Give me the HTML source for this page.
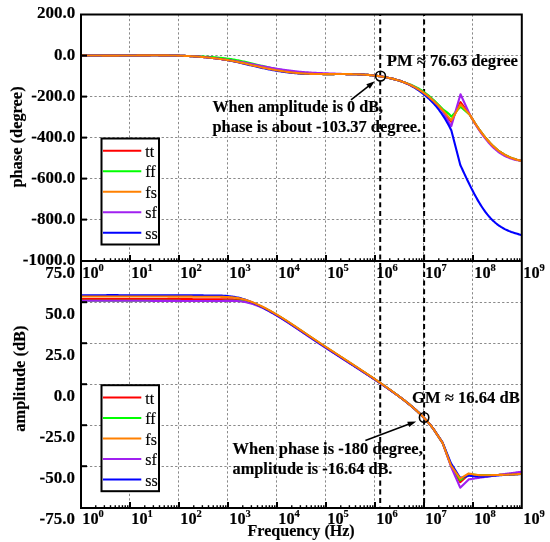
<!DOCTYPE html>
<html><head><meta charset="utf-8"><style>
html,body{margin:0;padding:0;background:#fff;}
svg{display:block;}
text{font-family:"Liberation Serif","DejaVu Serif",serif;fill:#000;stroke:#000;stroke-width:0.15px;}
.yl{font-size:17px;font-weight:bold;text-anchor:end;}
.xl{font-size:16.3px;font-weight:bold;}
.sup{font-size:10.5px;}
.an{font-size:16px;font-weight:bold;}
.al{font-size:16.4px;font-weight:bold;text-anchor:middle;}
.lt{font-size:16px;}
.g{stroke:#8a8a8a;stroke-width:1;stroke-dasharray:2.3 2.18;fill:none;}
.ax{stroke:#000;stroke-width:2;fill:none;}
.tk{stroke:#000;stroke-width:2;}
.mt{stroke:#000;stroke-width:1.4;}
.lg{stroke:#000;stroke-width:2;fill:#fff;}
.dl{stroke:#000;stroke-width:2;stroke-dasharray:5.1 3.6;stroke-dashoffset:3.2;}
.cc{stroke:#000;stroke-width:1.6;fill:none;}
</style></head><body>
<svg width="550" height="542" viewBox="0 0 550 542">
<rect width="550" height="542" fill="#fff"/>
<line x1="129.5" y1="14.4" x2="129.5" y2="508.0" class="g"/>
<line x1="178.5" y1="14.4" x2="178.5" y2="508.0" class="g"/>
<line x1="227.5" y1="14.4" x2="227.5" y2="508.0" class="g"/>
<line x1="276.5" y1="14.4" x2="276.5" y2="508.0" class="g"/>
<line x1="325.5" y1="14.4" x2="325.5" y2="508.0" class="g"/>
<line x1="374.5" y1="14.4" x2="374.5" y2="508.0" class="g"/>
<line x1="423.5" y1="14.4" x2="423.5" y2="508.0" class="g"/>
<line x1="472.5" y1="14.4" x2="472.5" y2="508.0" class="g"/>
<line x1="81.0" y1="55.50" x2="521.8" y2="55.50" class="g"/>
<line x1="81.0" y1="96.50" x2="521.8" y2="96.50" class="g"/>
<line x1="81.0" y1="137.50" x2="521.8" y2="137.50" class="g"/>
<line x1="81.0" y1="178.50" x2="521.8" y2="178.50" class="g"/>
<line x1="81.0" y1="219.50" x2="521.8" y2="219.50" class="g"/>
<line x1="81.0" y1="302.50" x2="521.8" y2="302.50" class="g"/>
<line x1="81.0" y1="343.50" x2="521.8" y2="343.50" class="g"/>
<line x1="81.0" y1="384.50" x2="521.8" y2="384.50" class="g"/>
<line x1="81.0" y1="425.50" x2="521.8" y2="425.50" class="g"/>
<line x1="81.0" y1="466.50" x2="521.8" y2="466.50" class="g"/>
<line x1="380.2" y1="14" x2="380.2" y2="508" class="dl"/>
<line x1="424.1" y1="14" x2="424.1" y2="508" class="dl"/>
<polyline points="81.00,55.30 82.00,55.33 83.00,55.35 84.00,55.37 85.00,55.39 86.00,55.41 87.00,55.43 88.00,55.44 89.00,55.46 90.00,55.47 91.00,55.48 92.00,55.48 93.00,55.49 94.00,55.50 95.00,55.50 96.00,55.50 97.00,55.52 98.00,55.53 99.00,55.54 100.00,55.56 101.00,55.57 102.00,55.58 103.00,55.58 104.00,55.59 105.00,55.60 106.00,55.60 107.00,55.60 108.00,55.61 109.00,55.61 110.00,55.61 111.00,55.61 112.00,55.61 113.00,55.61 114.00,55.60 115.00,55.60 116.00,55.60 117.00,55.59 118.00,55.59 119.00,55.58 120.00,55.57 121.00,55.57 122.00,55.56 123.00,55.55 124.00,55.54 125.00,55.54 126.00,55.53 127.00,55.52 128.00,55.51 129.00,55.50 130.00,55.49 131.00,55.48 132.00,55.47 133.00,55.46 134.00,55.45 135.00,55.44 136.00,55.43 137.00,55.42 138.00,55.41 139.00,55.40 140.00,55.39 141.00,55.39 142.00,55.38 143.00,55.37 144.00,55.36 145.00,55.36 146.00,55.35 147.00,55.34 148.00,55.34 149.00,55.33 150.00,55.33 151.00,55.32 152.00,55.32 153.00,55.32 154.00,55.32 155.00,55.32 156.00,55.32 157.00,55.32 158.00,55.32 159.00,55.33 160.00,55.33 161.00,55.33 162.00,55.34 163.00,55.35 164.00,55.36 165.00,55.37 166.00,55.38 167.00,55.39 168.00,55.40 169.00,55.42 170.00,55.44 171.00,55.45 172.00,55.47 173.00,55.50 174.00,55.52 175.00,55.54 176.00,55.57 177.00,55.60 178.00,55.62 179.00,55.66 180.00,55.69 181.00,55.72 182.00,55.76 183.00,55.80 184.00,55.84 185.00,55.88 186.00,55.93 187.00,55.97 188.00,56.02 189.00,56.07 190.00,56.12 191.00,56.18 192.00,56.24 193.00,56.30 194.00,56.36 195.00,56.42 196.00,56.49 197.00,56.56 198.00,56.63 199.00,56.71 200.00,56.78 201.00,56.86 202.00,56.94 203.00,57.03 204.00,57.12 205.00,57.21 206.00,57.30 207.00,57.40 208.00,57.49 209.00,57.60 210.00,57.70 211.00,57.81 212.00,57.92 213.00,58.03 214.00,58.15 215.00,58.27 216.00,58.39 217.00,58.52 218.00,58.65 219.00,58.78 220.00,58.92 221.00,59.06 222.00,59.20 223.00,59.35 224.00,59.50 225.00,59.66 226.00,59.81 227.00,59.98 228.00,60.14 229.00,60.31 230.00,60.48 231.00,60.66 232.00,60.84 233.00,61.03 234.00,61.22 235.00,61.41 236.00,61.61 237.00,61.81 238.00,62.02 239.00,62.23 240.00,62.44 241.00,62.66 242.00,62.88 243.00,63.10 244.00,63.32 245.00,63.55 246.00,63.78 247.00,64.01 248.00,64.24 249.00,64.47 250.00,64.70 251.00,64.94 252.00,65.17 253.00,65.40 254.00,65.63 255.00,65.86 256.00,66.09 257.00,66.32 258.00,66.55 259.00,66.77 260.00,66.99 261.00,67.21 262.00,67.43 263.00,67.64 264.00,67.85 265.00,68.06 266.00,68.26 267.00,68.47 268.00,68.67 269.00,68.86 270.00,69.06 271.00,69.25 272.00,69.44 273.00,69.62 274.00,69.80 275.00,69.98 276.00,70.16 277.00,70.33 278.00,70.50 279.00,70.66 280.00,70.82 281.00,70.98 282.00,71.14 283.00,71.29 284.00,71.43 285.00,71.58 286.00,71.72 287.00,71.85 288.00,71.98 289.00,72.11 290.00,72.24 291.00,72.36 292.00,72.47 293.00,72.59 294.00,72.69 295.00,72.80 296.00,72.90 297.00,72.99 298.00,73.08 299.00,73.17 300.00,73.25 301.00,73.33 302.00,73.40 303.00,73.47 304.00,73.53 305.00,73.59 306.00,73.64 307.00,73.69 308.00,73.74 309.00,73.79 310.00,73.83 311.00,73.86 312.00,73.89 313.00,73.92 314.00,73.95 315.00,73.97 316.00,74.00 317.00,74.01 318.00,74.03 319.00,74.04 320.00,74.06 321.00,74.07 322.00,74.07 323.00,74.08 324.00,74.08 325.00,74.09 326.00,74.09 327.00,74.09 328.00,74.09 329.00,74.09 330.00,74.09 331.00,74.08 332.00,74.08 333.00,74.08 334.00,74.08 335.00,74.07 336.00,74.07 337.00,74.07 338.00,74.06 339.00,74.06 340.00,74.06 341.00,74.06 342.00,74.06 343.00,74.06 344.00,74.07 345.00,74.07 346.00,74.08 347.00,74.09 348.00,74.10 349.00,74.11 350.00,74.12 351.00,74.14 352.00,74.16 353.00,74.18 354.00,74.21 355.00,74.23 356.00,74.26 357.00,74.30 358.00,74.34 359.00,74.38 360.00,74.42 361.00,74.47 362.00,74.52 363.00,74.58 364.00,74.64 365.00,74.70 366.00,74.77 367.00,74.84 368.00,74.92 369.00,75.01 370.00,75.09 371.00,75.19 372.00,75.29 373.00,75.39 374.00,75.50 375.00,75.62 376.00,75.74 377.00,75.87 378.00,76.00 379.00,76.14 380.00,76.29 381.00,76.44 382.00,76.60 383.00,76.77 384.00,76.94 385.00,77.13 386.00,77.32 387.00,77.51 388.00,77.72 389.00,77.93 390.00,78.15 391.00,78.38 392.00,78.62 393.00,78.86 394.00,79.12 395.00,79.38 396.00,79.66 397.00,79.95 398.00,80.24 399.00,80.55 400.00,80.87 401.00,81.22 402.00,81.59 403.00,81.96 404.00,82.35 405.00,82.76 406.00,83.17 407.00,83.60 408.00,84.05 409.00,84.51 410.00,84.98 411.00,85.47 412.00,85.98 413.00,86.50 414.00,87.04 415.00,87.60 416.00,88.17 417.00,88.76 418.00,89.37 419.00,89.99 420.00,90.64 421.00,91.30 422.00,91.98 423.00,92.68 424.00,93.40 425.00,94.15 426.00,94.91 427.00,95.69 428.00,96.49 429.00,97.32 430.00,98.16 431.00,99.02 432.00,99.90 433.00,100.81 434.00,101.73 435.00,102.67 436.00,103.64 437.00,104.60 438.00,105.58 439.00,106.58 440.00,107.60 441.00,108.64 442.00,109.73 443.00,110.91 444.00,112.16 445.00,113.46 446.00,114.80 447.00,116.17 448.00,117.53 449.00,118.90 450.00,120.23 451.00,121.53 451.30,121.91 460.50,102.10 470.00,115.00 471.00,116.71 472.00,118.39 473.00,120.04 474.00,121.65 475.00,123.23 476.00,124.77 477.00,126.28 478.00,127.76 479.00,129.20 480.00,130.61 481.00,131.98 482.00,133.32 483.00,134.62 484.00,135.89 485.00,137.12 486.00,138.35 487.00,139.54 488.00,140.69 489.00,141.81 490.00,142.89 491.00,143.94 492.00,144.95 493.00,145.93 494.00,146.87 495.00,147.78 496.00,148.65 497.00,149.48 498.00,150.28 499.00,151.04 500.00,151.77 501.00,152.46 502.00,153.12 503.00,153.74 504.00,154.34 505.00,154.90 506.00,155.44 507.00,155.95 508.00,156.44 509.00,156.91 510.00,157.34 511.00,157.76 512.00,158.14 513.00,158.51 514.00,158.85 515.00,159.17 516.00,159.47 517.00,159.76 518.00,160.02 519.00,160.26 520.00,160.49 521.00,160.70 521.50,160.80" fill="none" stroke="#ff0000" stroke-width="2.1" stroke-linejoin="round"/>
<polyline points="81.00,55.30 82.00,55.33 83.00,55.35 84.00,55.37 85.00,55.39 86.00,55.41 87.00,55.43 88.00,55.44 89.00,55.46 90.00,55.47 91.00,55.48 92.00,55.48 93.00,55.49 94.00,55.50 95.00,55.50 96.00,55.50 97.00,55.52 98.00,55.53 99.00,55.54 100.00,55.56 101.00,55.57 102.00,55.58 103.00,55.58 104.00,55.59 105.00,55.60 106.00,55.60 107.00,55.60 108.00,55.61 109.00,55.61 110.00,55.61 111.00,55.61 112.00,55.61 113.00,55.61 114.00,55.60 115.00,55.60 116.00,55.60 117.00,55.59 118.00,55.59 119.00,55.58 120.00,55.57 121.00,55.57 122.00,55.56 123.00,55.55 124.00,55.54 125.00,55.54 126.00,55.53 127.00,55.52 128.00,55.51 129.00,55.50 130.00,55.49 131.00,55.48 132.00,55.47 133.00,55.46 134.00,55.45 135.00,55.44 136.00,55.43 137.00,55.42 138.00,55.41 139.00,55.40 140.00,55.39 141.00,55.39 142.00,55.38 143.00,55.37 144.00,55.36 145.00,55.36 146.00,55.35 147.00,55.34 148.00,55.34 149.00,55.33 150.00,55.33 151.00,55.32 152.00,55.32 153.00,55.32 154.00,55.32 155.00,55.32 156.00,55.32 157.00,55.32 158.00,55.32 159.00,55.33 160.00,55.33 161.00,55.33 162.00,55.34 163.00,55.35 164.00,55.36 165.00,55.37 166.00,55.38 167.00,55.39 168.00,55.40 169.00,55.42 170.00,55.44 171.00,55.45 172.00,55.47 173.00,55.50 174.00,55.52 175.00,55.54 176.00,55.57 177.00,55.60 178.00,55.62 179.00,55.66 180.00,55.69 181.00,55.72 182.00,55.76 183.00,55.80 184.00,55.84 185.00,55.88 186.00,55.93 187.00,55.97 188.00,56.02 189.00,56.07 190.00,56.12 191.00,56.18 192.00,56.24 193.00,56.30 194.00,56.36 195.00,56.42 196.00,56.44 197.00,56.46 198.00,56.48 199.00,56.50 200.00,56.53 201.00,56.56 202.00,56.59 203.00,56.63 204.00,56.66 205.00,56.71 206.00,56.75 207.00,56.80 208.00,56.85 209.00,56.90 210.00,56.96 211.00,57.03 212.00,57.09 213.00,57.16 214.00,57.24 215.00,57.31 216.00,57.39 217.00,57.48 218.00,57.57 219.00,57.67 220.00,57.76 221.00,57.87 222.00,57.98 223.00,58.09 224.00,58.20 225.00,58.33 226.00,58.45 227.00,58.59 228.00,58.72 229.00,58.86 230.00,59.01 231.00,59.16 232.00,59.32 233.00,59.48 234.00,59.65 235.00,59.83 236.00,60.01 237.00,60.19 238.00,60.38 239.00,60.58 240.00,60.78 241.00,60.99 242.00,61.20 243.00,61.41 244.00,61.63 245.00,61.85 246.00,62.08 247.00,62.31 248.00,62.54 249.00,62.77 250.00,63.01 251.00,63.25 252.00,63.48 253.00,63.72 254.00,63.97 255.00,64.21 256.00,64.45 257.00,64.69 258.00,64.93 259.00,65.17 260.00,65.41 261.00,65.65 262.00,65.88 263.00,66.12 264.00,66.35 265.00,66.59 266.00,66.82 267.00,67.05 268.00,67.28 269.00,67.50 270.00,67.73 271.00,67.95 272.00,68.17 273.00,68.39 274.00,68.61 275.00,68.82 276.00,69.04 277.00,69.25 278.00,69.46 279.00,69.66 280.00,69.86 281.00,70.07 282.00,70.26 283.00,70.46 284.00,70.65 285.00,70.84 286.00,71.03 287.00,71.21 288.00,71.39 289.00,71.56 290.00,71.74 291.00,71.91 292.00,72.07 293.00,72.23 294.00,72.39 295.00,72.54 296.00,72.69 297.00,72.84 298.00,72.98 299.00,73.12 300.00,73.25 301.00,73.33 302.00,73.40 303.00,73.47 304.00,73.53 305.00,73.59 306.00,73.64 307.00,73.69 308.00,73.74 309.00,73.79 310.00,73.83 311.00,73.86 312.00,73.89 313.00,73.92 314.00,73.95 315.00,73.97 316.00,74.00 317.00,74.01 318.00,74.03 319.00,74.04 320.00,74.06 321.00,74.07 322.00,74.07 323.00,74.08 324.00,74.08 325.00,74.09 326.00,74.09 327.00,74.09 328.00,74.09 329.00,74.09 330.00,74.09 331.00,74.08 332.00,74.08 333.00,74.08 334.00,74.08 335.00,74.07 336.00,74.07 337.00,74.07 338.00,74.06 339.00,74.06 340.00,74.06 341.00,74.06 342.00,74.06 343.00,74.06 344.00,74.07 345.00,74.07 346.00,74.08 347.00,74.09 348.00,74.10 349.00,74.11 350.00,74.12 351.00,74.14 352.00,74.16 353.00,74.18 354.00,74.21 355.00,74.23 356.00,74.26 357.00,74.30 358.00,74.34 359.00,74.38 360.00,74.42 361.00,74.47 362.00,74.52 363.00,74.58 364.00,74.64 365.00,74.70 366.00,74.77 367.00,74.84 368.00,74.92 369.00,75.01 370.00,75.09 371.00,75.19 372.00,75.29 373.00,75.39 374.00,75.50 375.00,75.62 376.00,75.74 377.00,75.87 378.00,76.00 379.00,76.14 380.00,76.29 381.00,76.44 382.00,76.60 383.00,76.77 384.00,76.94 385.00,77.13 386.00,77.32 387.00,77.51 388.00,77.72 389.00,77.93 390.00,78.15 391.00,78.38 392.00,78.62 393.00,78.86 394.00,79.12 395.00,79.38 396.00,79.66 397.00,79.95 398.00,80.24 399.00,80.55 400.00,80.87 401.00,81.20 402.00,81.53 403.00,81.87 404.00,82.21 405.00,82.55 406.00,82.91 407.00,83.27 408.00,83.64 409.00,84.03 410.00,84.43 411.00,84.84 412.00,85.26 413.00,85.71 414.00,86.17 415.00,86.65 416.00,87.15 417.00,87.67 418.00,88.21 419.00,88.78 420.00,89.37 421.00,89.99 422.00,90.63 423.00,91.31 424.00,92.01 425.00,92.75 426.00,93.51 427.00,94.29 428.00,95.10 429.00,95.92 430.00,96.77 431.00,97.64 432.00,98.52 433.00,99.43 434.00,100.37 435.00,101.32 436.00,102.29 437.00,103.27 438.00,104.26 439.00,105.27 440.00,106.30 441.00,107.35 442.00,108.35 443.00,109.24 444.00,110.06 445.00,110.83 446.00,111.59 447.00,112.36 448.00,113.18 449.00,114.08 450.00,115.08 451.00,116.23 451.30,116.60 460.50,106.70 470.00,115.00 471.00,116.71 472.00,118.39 473.00,120.04 474.00,121.65 475.00,123.23 476.00,124.77 477.00,126.28 478.00,127.76 479.00,129.20 480.00,130.61 481.00,131.98 482.00,133.32 483.00,134.62 484.00,135.89 485.00,137.12 486.00,138.35 487.00,139.54 488.00,140.69 489.00,141.81 490.00,142.89 491.00,143.94 492.00,144.95 493.00,145.93 494.00,146.87 495.00,147.78 496.00,148.65 497.00,149.48 498.00,150.28 499.00,151.04 500.00,151.77 501.00,152.46 502.00,153.12 503.00,153.74 504.00,154.34 505.00,154.90 506.00,155.44 507.00,155.95 508.00,156.44 509.00,156.91 510.00,157.34 511.00,157.76 512.00,158.14 513.00,158.51 514.00,158.85 515.00,159.17 516.00,159.47 517.00,159.76 518.00,160.02 519.00,160.26 520.00,160.49 521.00,160.70 521.50,160.80" fill="none" stroke="#00ff00" stroke-width="2.1" stroke-linejoin="round"/>
<polyline points="81.00,55.30 82.00,55.33 83.00,55.35 84.00,55.37 85.00,55.39 86.00,55.41 87.00,55.43 88.00,55.44 89.00,55.46 90.00,55.47 91.00,55.48 92.00,55.48 93.00,55.49 94.00,55.50 95.00,55.50 96.00,55.50 97.00,55.52 98.00,55.53 99.00,55.54 100.00,55.56 101.00,55.57 102.00,55.58 103.00,55.58 104.00,55.59 105.00,55.60 106.00,55.60 107.00,55.60 108.00,55.61 109.00,55.61 110.00,55.61 111.00,55.61 112.00,55.61 113.00,55.61 114.00,55.60 115.00,55.60 116.00,55.60 117.00,55.59 118.00,55.59 119.00,55.58 120.00,55.57 121.00,55.57 122.00,55.56 123.00,55.55 124.00,55.54 125.00,55.54 126.00,55.53 127.00,55.52 128.00,55.51 129.00,55.50 130.00,55.49 131.00,55.48 132.00,55.47 133.00,55.46 134.00,55.45 135.00,55.44 136.00,55.43 137.00,55.42 138.00,55.41 139.00,55.40 140.00,55.39 141.00,55.39 142.00,55.38 143.00,55.37 144.00,55.36 145.00,55.36 146.00,55.35 147.00,55.34 148.00,55.34 149.00,55.33 150.00,55.33 151.00,55.32 152.00,55.32 153.00,55.32 154.00,55.32 155.00,55.32 156.00,55.32 157.00,55.32 158.00,55.32 159.00,55.33 160.00,55.33 161.00,55.33 162.00,55.34 163.00,55.35 164.00,55.36 165.00,55.37 166.00,55.38 167.00,55.39 168.00,55.40 169.00,55.42 170.00,55.44 171.00,55.45 172.00,55.47 173.00,55.50 174.00,55.52 175.00,55.54 176.00,55.57 177.00,55.60 178.00,55.62 179.00,55.66 180.00,55.69 181.00,55.72 182.00,55.76 183.00,55.80 184.00,55.84 185.00,55.88 186.00,55.93 187.00,55.97 188.00,56.02 189.00,56.07 190.00,56.12 191.00,56.18 192.00,56.24 193.00,56.30 194.00,56.36 195.00,56.42 196.00,56.49 197.00,56.56 198.00,56.63 199.00,56.71 200.00,56.78 201.00,56.86 202.00,56.94 203.00,57.03 204.00,57.12 205.00,57.21 206.00,57.30 207.00,57.40 208.00,57.49 209.00,57.60 210.00,57.70 211.00,57.81 212.00,57.92 213.00,58.03 214.00,58.15 215.00,58.27 216.00,58.39 217.00,58.52 218.00,58.65 219.00,58.78 220.00,58.92 221.00,59.06 222.00,59.20 223.00,59.35 224.00,59.50 225.00,59.66 226.00,59.77 227.00,59.89 228.00,60.02 229.00,60.14 230.00,60.28 231.00,60.41 232.00,60.55 233.00,60.69 234.00,60.84 235.00,61.00 236.00,61.15 237.00,61.32 238.00,61.48 239.00,61.65 240.00,61.83 241.00,62.00 242.00,62.19 243.00,62.37 244.00,62.56 245.00,62.75 246.00,62.94 247.00,63.14 248.00,63.33 249.00,63.53 250.00,63.73 251.00,63.93 252.00,64.13 253.00,64.33 254.00,64.53 255.00,64.73 256.00,64.93 257.00,65.13 258.00,65.33 259.00,65.53 260.00,65.72 261.00,65.92 262.00,66.11 263.00,66.30 264.00,66.49 265.00,66.67 266.00,66.86 267.00,67.04 268.00,67.22 269.00,67.40 270.00,67.58 271.00,67.75 272.00,67.93 273.00,68.10 274.00,68.27 275.00,68.43 276.00,68.60 277.00,68.76 278.00,68.92 279.00,69.08 280.00,69.24 281.00,69.39 282.00,69.54 283.00,69.69 284.00,69.83 285.00,69.98 286.00,70.12 287.00,70.25 288.00,70.39 289.00,70.52 290.00,70.65 291.00,70.78 292.00,70.90 293.00,71.02 294.00,71.14 295.00,71.25 296.00,71.36 297.00,71.47 298.00,71.57 299.00,71.67 300.00,71.77 301.00,71.86 302.00,71.95 303.00,72.04 304.00,72.12 305.00,72.20 306.00,72.28 307.00,72.35 308.00,72.42 309.00,72.49 310.00,72.56 311.00,72.62 312.00,72.68 313.00,72.73 314.00,72.79 315.00,72.84 316.00,72.89 317.00,72.94 318.00,72.99 319.00,73.04 320.00,73.08 321.00,73.13 322.00,73.17 323.00,73.21 324.00,73.25 325.00,73.29 326.00,73.33 327.00,73.36 328.00,73.40 329.00,73.44 330.00,73.47 331.00,73.51 332.00,73.55 333.00,73.58 334.00,73.62 335.00,73.66 336.00,73.70 337.00,73.73 338.00,73.77 339.00,73.81 340.00,73.85 341.00,73.89 342.00,73.94 343.00,73.98 344.00,74.03 345.00,74.07 346.00,74.08 347.00,74.09 348.00,74.10 349.00,74.11 350.00,74.12 351.00,74.14 352.00,74.16 353.00,74.18 354.00,74.21 355.00,74.23 356.00,74.26 357.00,74.30 358.00,74.34 359.00,74.38 360.00,74.42 361.00,74.47 362.00,74.52 363.00,74.58 364.00,74.64 365.00,74.70 366.00,74.77 367.00,74.84 368.00,74.92 369.00,75.01 370.00,75.09 371.00,75.19 372.00,75.29 373.00,75.39 374.00,75.50 375.00,75.62 376.00,75.74 377.00,75.87 378.00,76.00 379.00,76.14 380.00,76.29 381.00,76.44 382.00,76.60 383.00,76.77 384.00,76.94 385.00,77.13 386.00,77.32 387.00,77.51 388.00,77.72 389.00,77.93 390.00,78.15 391.00,78.38 392.00,78.62 393.00,78.86 394.00,79.12 395.00,79.38 396.00,79.66 397.00,79.95 398.00,80.24 399.00,80.55 400.00,80.87 401.00,81.21 402.00,81.55 403.00,81.91 404.00,82.28 405.00,82.67 406.00,83.07 407.00,83.48 408.00,83.91 409.00,84.35 410.00,84.81 411.00,85.29 412.00,85.78 413.00,86.29 414.00,86.82 415.00,87.36 416.00,87.92 417.00,88.50 418.00,89.10 419.00,89.72 420.00,90.35 421.00,91.01 422.00,91.69 423.00,92.39 424.00,93.11 425.00,93.85 426.00,94.61 427.00,95.39 428.00,96.20 429.00,97.02 430.00,97.87 431.00,98.74 432.00,99.65 433.00,100.59 434.00,101.55 435.00,102.55 436.00,103.57 437.00,104.59 438.00,105.63 439.00,106.69 440.00,107.77 441.00,108.86 442.00,110.11 443.00,111.60 444.00,113.27 445.00,115.08 446.00,116.97 447.00,118.88 448.00,120.77 449.00,122.57 450.00,124.24 451.00,125.71 451.30,126.10 460.50,94.20 470.00,115.00 471.00,116.79 472.00,118.55 473.00,120.27 474.00,121.96 475.00,123.62 476.00,125.24 477.00,126.82 478.00,128.37 479.00,129.88 480.00,131.35 481.00,132.79 482.00,134.19 483.00,135.55 484.00,136.87 485.00,138.15 486.00,139.42 487.00,140.66 488.00,141.85 489.00,143.00 490.00,144.11 491.00,145.19 492.00,146.22 493.00,147.21 494.00,148.16 495.00,149.08 496.00,149.95 497.00,150.78 498.00,151.57 499.00,152.31 500.00,153.02 501.00,153.69 502.00,154.32 503.00,154.92 504.00,155.48 505.00,156.00 506.00,156.49 507.00,156.96 508.00,157.40 509.00,157.80 510.00,158.18 511.00,158.53 512.00,158.86 513.00,159.15 514.00,159.43 515.00,159.68 516.00,159.90 517.00,160.11 518.00,160.29 519.00,160.46 520.00,160.61 521.00,160.74 521.50,160.80" fill="none" stroke="#a020f0" stroke-width="2.1" stroke-linejoin="round"/>
<polyline points="81.00,55.30 82.00,55.33 83.00,55.35 84.00,55.37 85.00,55.39 86.00,55.41 87.00,55.43 88.00,55.44 89.00,55.46 90.00,55.47 91.00,55.48 92.00,55.48 93.00,55.49 94.00,55.50 95.00,55.50 96.00,55.50 97.00,55.52 98.00,55.53 99.00,55.54 100.00,55.56 101.00,55.57 102.00,55.58 103.00,55.58 104.00,55.59 105.00,55.60 106.00,55.60 107.00,55.60 108.00,55.61 109.00,55.61 110.00,55.61 111.00,55.61 112.00,55.61 113.00,55.61 114.00,55.60 115.00,55.60 116.00,55.60 117.00,55.59 118.00,55.59 119.00,55.58 120.00,55.57 121.00,55.57 122.00,55.56 123.00,55.55 124.00,55.54 125.00,55.54 126.00,55.53 127.00,55.52 128.00,55.51 129.00,55.50 130.00,55.49 131.00,55.48 132.00,55.47 133.00,55.46 134.00,55.45 135.00,55.44 136.00,55.43 137.00,55.42 138.00,55.41 139.00,55.40 140.00,55.39 141.00,55.39 142.00,55.38 143.00,55.37 144.00,55.36 145.00,55.36 146.00,55.35 147.00,55.34 148.00,55.34 149.00,55.33 150.00,55.33 151.00,55.32 152.00,55.32 153.00,55.32 154.00,55.32 155.00,55.32 156.00,55.32 157.00,55.32 158.00,55.32 159.00,55.33 160.00,55.33 161.00,55.33 162.00,55.34 163.00,55.35 164.00,55.36 165.00,55.37 166.00,55.38 167.00,55.39 168.00,55.40 169.00,55.42 170.00,55.44 171.00,55.45 172.00,55.47 173.00,55.50 174.00,55.52 175.00,55.54 176.00,55.57 177.00,55.60 178.00,55.62 179.00,55.66 180.00,55.69 181.00,55.72 182.00,55.76 183.00,55.80 184.00,55.84 185.00,55.88 186.00,55.93 187.00,55.97 188.00,56.02 189.00,56.07 190.00,56.12 191.00,56.18 192.00,56.24 193.00,56.30 194.00,56.36 195.00,56.42 196.00,56.49 197.00,56.56 198.00,56.63 199.00,56.71 200.00,56.78 201.00,56.86 202.00,56.94 203.00,57.03 204.00,57.12 205.00,57.21 206.00,57.30 207.00,57.40 208.00,57.49 209.00,57.60 210.00,57.70 211.00,57.81 212.00,57.92 213.00,58.03 214.00,58.15 215.00,58.27 216.00,58.39 217.00,58.52 218.00,58.65 219.00,58.78 220.00,58.92 221.00,59.08 222.00,59.24 223.00,59.40 224.00,59.56 225.00,59.73 226.00,59.91 227.00,60.08 228.00,60.27 229.00,60.45 230.00,60.64 231.00,60.83 232.00,61.03 233.00,61.23 234.00,61.43 235.00,61.64 236.00,61.85 237.00,62.06 238.00,62.28 239.00,62.51 240.00,62.73 241.00,62.96 242.00,63.19 243.00,63.43 244.00,63.66 245.00,63.90 246.00,64.14 247.00,64.38 248.00,64.62 249.00,64.87 250.00,65.11 251.00,65.35 252.00,65.59 253.00,65.83 254.00,66.07 255.00,66.31 256.00,66.55 257.00,66.78 258.00,67.01 259.00,67.24 260.00,67.47 261.00,67.69 262.00,67.91 263.00,68.13 264.00,68.34 265.00,68.55 266.00,68.76 267.00,68.96 268.00,69.16 269.00,69.36 270.00,69.56 271.00,69.75 272.00,69.93 273.00,70.12 274.00,70.30 275.00,70.47 276.00,70.65 277.00,70.82 278.00,70.98 279.00,71.14 280.00,71.30 281.00,71.45 282.00,71.60 283.00,71.75 284.00,71.89 285.00,72.02 286.00,72.15 287.00,72.28 288.00,72.41 289.00,72.53 290.00,72.64 291.00,72.75 292.00,72.86 293.00,72.96 294.00,73.06 295.00,73.15 296.00,73.24 297.00,73.32 298.00,73.40 299.00,73.47 300.00,73.54 301.00,73.61 302.00,73.67 303.00,73.72 304.00,73.77 305.00,73.82 306.00,73.86 307.00,73.89 308.00,73.93 309.00,73.95 310.00,73.98 311.00,74.00 312.00,74.02 313.00,74.03 314.00,74.04 315.00,74.05 316.00,74.06 317.00,74.06 318.00,74.06 319.00,74.06 320.00,74.06 321.00,74.07 322.00,74.07 323.00,74.08 324.00,74.08 325.00,74.09 326.00,74.09 327.00,74.09 328.00,74.09 329.00,74.09 330.00,74.09 331.00,74.08 332.00,74.08 333.00,74.08 334.00,74.08 335.00,74.07 336.00,74.07 337.00,74.07 338.00,74.06 339.00,74.06 340.00,74.06 341.00,74.06 342.00,74.06 343.00,74.06 344.00,74.07 345.00,74.07 346.00,74.08 347.00,74.09 348.00,74.10 349.00,74.11 350.00,74.12 351.00,74.14 352.00,74.16 353.00,74.18 354.00,74.21 355.00,74.23 356.00,74.26 357.00,74.30 358.00,74.34 359.00,74.38 360.00,74.42 361.00,74.47 362.00,74.52 363.00,74.58 364.00,74.64 365.00,74.70 366.00,74.77 367.00,74.84 368.00,74.92 369.00,75.01 370.00,75.09 371.00,75.19 372.00,75.29 373.00,75.39 374.00,75.50 375.00,75.62 376.00,75.74 377.00,75.87 378.00,76.00 379.00,76.14 380.00,76.29 381.00,76.44 382.00,76.60 383.00,76.77 384.00,76.94 385.00,77.13 386.00,77.32 387.00,77.51 388.00,77.72 389.00,77.93 390.00,78.15 391.00,78.38 392.00,78.62 393.00,78.86 394.00,79.12 395.00,79.38 396.00,79.66 397.00,79.95 398.00,80.24 399.00,80.55 400.00,80.87 401.00,81.21 402.00,81.57 403.00,81.95 404.00,82.35 405.00,82.78 406.00,83.22 407.00,83.68 408.00,84.16 409.00,84.65 410.00,85.16 411.00,85.69 412.00,86.23 413.00,86.79 414.00,87.36 415.00,87.95 416.00,88.63 417.00,89.31 418.00,90.00 419.00,90.71 420.00,91.43 421.00,92.16 422.00,92.91 423.00,93.68 424.00,94.47 425.00,95.28 426.00,96.12 427.00,96.98 428.00,97.86 429.00,98.78 430.00,99.72 431.00,100.71 432.00,101.73 433.00,102.79 434.00,103.88 435.00,105.01 436.00,106.18 437.00,107.39 438.00,108.65 439.00,109.95 440.00,111.29 441.00,112.69 442.00,114.14 443.00,115.63 444.00,117.19 445.00,118.79 446.00,120.46 447.00,122.18 448.00,123.96 449.00,125.81 450.00,127.72 451.00,129.69 451.30,130.30 460.30,165.00 461.30,167.15 462.30,169.29 463.30,171.44 464.30,173.58 465.30,175.71 466.30,177.83 467.30,179.93 468.30,182.01 469.30,184.07 470.30,186.11 471.30,188.12 472.30,190.09 473.30,192.02 474.30,193.92 475.30,195.77 476.30,197.59 477.30,199.37 478.30,201.10 479.30,202.78 480.30,204.41 481.30,206.00 482.30,207.53 483.30,209.01 484.30,210.44 485.30,211.82 486.30,213.14 487.30,214.41 488.30,215.62 489.30,216.77 490.30,217.88 491.30,218.94 492.30,219.95 493.30,220.91 494.30,221.82 495.30,222.69 496.30,223.52 497.30,224.31 498.30,225.06 499.30,225.77 500.30,226.45 501.30,227.09 502.30,227.69 503.30,228.27 504.30,228.81 505.30,229.33 506.30,229.82 507.30,230.28 508.30,230.72 509.30,231.14 510.30,231.53 511.30,231.91 512.30,232.26 513.30,232.61 514.30,232.93 515.30,233.25 516.30,233.55 517.30,233.84 518.30,234.13 519.30,234.41 520.30,234.68 521.30,234.95 521.50,235.00" fill="none" stroke="#0000ff" stroke-width="2.1" stroke-linejoin="round"/>
<polyline points="81.00,55.30 82.00,55.33 83.00,55.35 84.00,55.37 85.00,55.39 86.00,55.41 87.00,55.43 88.00,55.44 89.00,55.46 90.00,55.47 91.00,55.48 92.00,55.48 93.00,55.49 94.00,55.50 95.00,55.50 96.00,55.50 97.00,55.52 98.00,55.53 99.00,55.54 100.00,55.56 101.00,55.57 102.00,55.58 103.00,55.58 104.00,55.59 105.00,55.60 106.00,55.60 107.00,55.60 108.00,55.61 109.00,55.61 110.00,55.61 111.00,55.61 112.00,55.61 113.00,55.61 114.00,55.60 115.00,55.60 116.00,55.60 117.00,55.59 118.00,55.59 119.00,55.58 120.00,55.57 121.00,55.57 122.00,55.56 123.00,55.55 124.00,55.54 125.00,55.54 126.00,55.53 127.00,55.52 128.00,55.51 129.00,55.50 130.00,55.49 131.00,55.48 132.00,55.47 133.00,55.46 134.00,55.45 135.00,55.44 136.00,55.43 137.00,55.42 138.00,55.41 139.00,55.40 140.00,55.39 141.00,55.39 142.00,55.38 143.00,55.37 144.00,55.36 145.00,55.36 146.00,55.35 147.00,55.34 148.00,55.34 149.00,55.33 150.00,55.33 151.00,55.32 152.00,55.32 153.00,55.32 154.00,55.32 155.00,55.32 156.00,55.32 157.00,55.32 158.00,55.32 159.00,55.33 160.00,55.33 161.00,55.33 162.00,55.34 163.00,55.35 164.00,55.36 165.00,55.37 166.00,55.38 167.00,55.39 168.00,55.40 169.00,55.42 170.00,55.44 171.00,55.45 172.00,55.47 173.00,55.50 174.00,55.52 175.00,55.54 176.00,55.57 177.00,55.60 178.00,55.62 179.00,55.66 180.00,55.69 181.00,55.72 182.00,55.76 183.00,55.80 184.00,55.84 185.00,55.88 186.00,55.93 187.00,55.97 188.00,56.02 189.00,56.07 190.00,56.12 191.00,56.18 192.00,56.24 193.00,56.30 194.00,56.36 195.00,56.42 196.00,56.49 197.00,56.56 198.00,56.63 199.00,56.71 200.00,56.78 201.00,56.86 202.00,56.94 203.00,57.03 204.00,57.12 205.00,57.21 206.00,57.30 207.00,57.40 208.00,57.49 209.00,57.60 210.00,57.70 211.00,57.81 212.00,57.92 213.00,58.03 214.00,58.15 215.00,58.27 216.00,58.39 217.00,58.52 218.00,58.65 219.00,58.78 220.00,58.92 221.00,59.06 222.00,59.20 223.00,59.35 224.00,59.50 225.00,59.66 226.00,59.81 227.00,59.98 228.00,60.14 229.00,60.31 230.00,60.48 231.00,60.66 232.00,60.84 233.00,61.03 234.00,61.22 235.00,61.41 236.00,61.61 237.00,61.81 238.00,62.02 239.00,62.23 240.00,62.44 241.00,62.66 242.00,62.88 243.00,63.10 244.00,63.32 245.00,63.55 246.00,63.78 247.00,64.01 248.00,64.24 249.00,64.47 250.00,64.70 251.00,64.94 252.00,65.17 253.00,65.40 254.00,65.63 255.00,65.86 256.00,66.09 257.00,66.32 258.00,66.55 259.00,66.77 260.00,66.99 261.00,67.21 262.00,67.43 263.00,67.64 264.00,67.85 265.00,68.06 266.00,68.26 267.00,68.47 268.00,68.67 269.00,68.86 270.00,69.06 271.00,69.25 272.00,69.44 273.00,69.62 274.00,69.80 275.00,69.98 276.00,70.16 277.00,70.33 278.00,70.50 279.00,70.66 280.00,70.82 281.00,70.98 282.00,71.14 283.00,71.29 284.00,71.43 285.00,71.58 286.00,71.72 287.00,71.85 288.00,71.98 289.00,72.11 290.00,72.24 291.00,72.36 292.00,72.47 293.00,72.59 294.00,72.69 295.00,72.80 296.00,72.90 297.00,72.99 298.00,73.08 299.00,73.17 300.00,73.25 301.00,73.33 302.00,73.40 303.00,73.47 304.00,73.53 305.00,73.59 306.00,73.64 307.00,73.69 308.00,73.74 309.00,73.79 310.00,73.83 311.00,73.86 312.00,73.89 313.00,73.92 314.00,73.95 315.00,73.97 316.00,74.00 317.00,74.01 318.00,74.03 319.00,74.04 320.00,74.06 321.00,74.07 322.00,74.07 323.00,74.08 324.00,74.08 325.00,74.09 326.00,74.09 327.00,74.09 328.00,74.09 329.00,74.09 330.00,74.09 331.00,74.08 332.00,74.08 333.00,74.08 334.00,74.08 335.00,74.07 336.00,74.07 337.00,74.07 338.00,74.06 339.00,74.06 340.00,74.06 341.00,74.06 342.00,74.06 343.00,74.06 344.00,74.07 345.00,74.07 346.00,74.08 347.00,74.09 348.00,74.10 349.00,74.11 350.00,74.12 351.00,74.14 352.00,74.16 353.00,74.18 354.00,74.21 355.00,74.23 356.00,74.26 357.00,74.30 358.00,74.34 359.00,74.38 360.00,74.42 361.00,74.47 362.00,74.52 363.00,74.58 364.00,74.64 365.00,74.70 366.00,74.77 367.00,74.84 368.00,74.92 369.00,75.01 370.00,75.09 371.00,75.19 372.00,75.29 373.00,75.39 374.00,75.50 375.00,75.62 376.00,75.74 377.00,75.87 378.00,76.00 379.00,76.14 380.00,76.29 381.00,76.44 382.00,76.60 383.00,76.77 384.00,76.94 385.00,77.13 386.00,77.32 387.00,77.51 388.00,77.72 389.00,77.93 390.00,78.15 391.00,78.38 392.00,78.62 393.00,78.86 394.00,79.12 395.00,79.38 396.00,79.66 397.00,79.95 398.00,80.24 399.00,80.55 400.00,80.87 401.00,81.21 402.00,81.55 403.00,81.91 404.00,82.28 405.00,82.67 406.00,83.07 407.00,83.48 408.00,83.91 409.00,84.35 410.00,84.81 411.00,85.29 412.00,85.78 413.00,86.29 414.00,86.82 415.00,87.36 416.00,87.92 417.00,88.50 418.00,89.10 419.00,89.72 420.00,90.35 421.00,91.01 422.00,91.69 423.00,92.39 424.00,93.11 425.00,93.85 426.00,94.61 427.00,95.39 428.00,96.20 429.00,97.02 430.00,97.87 431.00,98.74 432.00,99.62 433.00,100.53 434.00,101.47 435.00,102.42 436.00,103.39 437.00,104.37 438.00,105.36 439.00,106.37 440.00,107.40 441.00,108.45 442.00,109.53 443.00,110.62 444.00,111.74 445.00,112.87 446.00,114.03 447.00,115.20 448.00,116.40 449.00,117.62 450.00,118.86 451.00,120.12 451.30,120.50 460.50,104.40 470.00,115.00 471.00,116.71 472.00,118.39 473.00,120.04 474.00,121.65 475.00,123.23 476.00,124.77 477.00,126.28 478.00,127.76 479.00,129.20 480.00,130.61 481.00,131.98 482.00,133.32 483.00,134.62 484.00,135.89 485.00,137.12 486.00,138.35 487.00,139.54 488.00,140.69 489.00,141.81 490.00,142.89 491.00,143.94 492.00,144.95 493.00,145.93 494.00,146.87 495.00,147.78 496.00,148.65 497.00,149.48 498.00,150.28 499.00,151.04 500.00,151.77 501.00,152.46 502.00,153.12 503.00,153.74 504.00,154.34 505.00,154.90 506.00,155.44 507.00,155.95 508.00,156.44 509.00,156.91 510.00,157.34 511.00,157.76 512.00,158.14 513.00,158.51 514.00,158.85 515.00,159.17 516.00,159.47 517.00,159.76 518.00,160.02 519.00,160.26 520.00,160.49 521.00,160.70 521.50,160.80" fill="none" stroke="#ff8000" stroke-width="2.1" stroke-linejoin="round"/>
<polyline points="81.00,299.01 82.00,299.01 83.00,299.01 84.00,299.01 85.00,299.00 86.00,299.00 87.00,299.00 88.00,299.00 89.00,299.00 90.00,298.99 91.00,298.99 92.00,298.99 93.00,298.99 94.00,298.99 95.00,298.99 96.00,298.98 97.00,298.98 98.00,298.98 99.00,298.98 100.00,298.98 101.00,298.98 102.00,298.98 103.00,298.98 104.00,298.98 105.00,298.98 106.00,298.98 107.00,298.97 108.00,298.97 109.00,298.97 110.00,298.97 111.00,298.97 112.00,298.97 113.00,298.97 114.00,298.97 115.00,298.97 116.00,298.97 117.00,298.97 118.00,298.97 119.00,298.98 120.00,298.98 121.00,298.98 122.00,298.98 123.00,298.98 124.00,298.98 125.00,298.98 126.00,298.98 127.00,298.98 128.00,298.98 129.00,298.98 130.00,298.99 131.00,298.99 132.00,298.99 133.00,298.99 134.00,298.99 135.00,298.99 136.00,298.99 137.00,299.00 138.00,299.00 139.00,299.00 140.00,299.00 141.00,299.00 142.00,299.01 143.00,299.01 144.00,299.01 145.00,299.01 146.00,299.01 147.00,299.02 148.00,299.02 149.00,299.02 150.00,299.02 151.00,299.03 152.00,299.03 153.00,299.03 154.00,299.03 155.00,299.04 156.00,299.04 157.00,299.04 158.00,299.05 159.00,299.05 160.00,299.05 161.00,299.06 162.00,299.06 163.00,299.06 164.00,299.06 165.00,299.07 166.00,299.07 167.00,299.07 168.00,299.08 169.00,299.08 170.00,299.09 171.00,299.09 172.00,299.09 173.00,299.10 174.00,299.10 175.00,299.10 176.00,299.11 177.00,299.11 178.00,299.11 179.00,299.12 180.00,299.12 181.00,299.13 182.00,299.13 183.00,299.13 184.00,299.14 185.00,299.14 186.00,299.15 187.00,299.15 188.00,299.16 189.00,299.16 190.00,299.16 191.00,299.17 192.00,299.17 193.00,299.18 194.00,299.18 195.00,299.19 196.00,299.19 197.00,299.19 198.00,299.20 199.00,299.20 200.00,299.21 201.00,299.21 202.00,299.22 203.00,299.22 204.00,299.23 205.00,299.23 206.00,299.24 207.00,299.24 208.00,299.25 209.00,299.25 210.00,299.25 211.00,299.26 212.00,299.26 213.00,299.27 214.00,299.27 215.00,299.28 216.00,299.28 217.00,299.28 218.00,299.28 219.00,299.27 220.00,299.26 221.00,299.26 222.00,299.25 223.00,299.24 224.00,299.24 225.00,299.23 226.00,299.24 227.00,299.24 228.00,299.25 229.00,299.27 230.00,299.29 231.00,299.32 232.00,299.36 233.00,299.40 234.00,299.46 235.00,299.53 236.00,299.61 237.00,299.70 238.00,299.80 239.00,299.92 240.00,300.05 241.00,300.19 242.00,300.35 243.00,300.53 244.00,300.73 245.00,300.94 246.00,301.18 247.00,301.43 248.00,301.70 249.00,301.98 250.00,302.29 251.00,302.60 252.00,302.94 253.00,303.29 254.00,303.65 255.00,304.02 256.00,304.41 257.00,304.81 258.00,305.22 259.00,305.65 260.00,306.08 261.00,306.53 262.00,306.99 263.00,307.47 264.00,307.95 265.00,308.45 266.00,308.96 267.00,309.48 268.00,310.01 269.00,310.56 270.00,311.11 271.00,311.67 272.00,312.23 273.00,312.80 274.00,313.38 275.00,313.96 276.00,314.55 277.00,315.15 278.00,315.75 279.00,316.36 280.00,316.97 281.00,317.59 282.00,318.21 283.00,318.84 284.00,319.47 285.00,320.11 286.00,320.75 287.00,321.39 288.00,322.04 289.00,322.69 290.00,323.34 291.00,324.00 292.00,324.66 293.00,325.32 294.00,325.99 295.00,326.65 296.00,327.32 297.00,327.99 298.00,328.66 299.00,329.34 300.00,330.01 301.00,330.69 302.00,331.36 303.00,332.04 304.00,332.72 305.00,333.40 306.00,334.07 307.00,334.75 308.00,335.43 309.00,336.10 310.00,336.78 311.00,337.45 312.00,338.13 313.00,338.80 314.00,339.47 315.00,340.14 316.00,340.80 317.00,341.47 318.00,342.14 319.00,342.80 320.00,343.46 321.00,344.12 322.00,344.78 323.00,345.44 324.00,346.10 325.00,346.76 326.00,347.41 327.00,348.07 328.00,348.72 329.00,349.38 330.00,350.03 331.00,350.68 332.00,351.34 333.00,351.99 334.00,352.64 335.00,353.29 336.00,353.94 337.00,354.59 338.00,355.24 339.00,355.88 340.00,356.53 341.00,357.18 342.00,357.83 343.00,358.47 344.00,359.12 345.00,359.77 346.00,360.42 347.00,361.06 348.00,361.71 349.00,362.36 350.00,363.01 351.00,363.65 352.00,364.30 353.00,364.95 354.00,365.60 355.00,366.25 356.00,366.90 357.00,367.56 358.00,368.21 359.00,368.86 360.00,369.52 361.00,370.17 362.00,370.83 363.00,371.48 364.00,372.14 365.00,372.80 366.00,373.46 367.00,374.13 368.00,374.79 369.00,375.46 370.00,376.12 371.00,376.79 372.00,377.46 373.00,378.13 374.00,378.81 375.00,379.48 376.00,380.16 377.00,380.84 378.00,381.52 379.00,382.20 380.00,382.89 381.00,383.57 382.00,384.26 383.00,384.96 384.00,385.65 385.00,386.35 386.00,387.05 387.00,387.75 388.00,388.45 389.00,389.16 390.00,389.87 391.00,390.58 392.00,391.30 393.00,392.02 394.00,392.74 395.00,393.46 396.00,394.19 397.00,394.92 398.00,395.65 399.00,396.39 400.00,397.13 401.00,397.88 402.00,398.64 403.00,399.39 404.00,400.16 405.00,400.93 406.00,401.72 407.00,402.51 408.00,403.31 409.00,404.12 410.00,404.94 411.00,405.77 412.00,406.61 413.00,407.46 414.00,408.33 415.00,409.21 416.00,410.11 417.00,411.02 418.00,411.94 419.00,412.88 420.00,413.84 421.00,414.81 422.00,415.80 423.00,416.81 424.00,417.84 425.00,418.88 426.00,419.95 427.00,421.04 428.00,422.17 429.00,423.33 430.00,424.52 431.00,425.76 432.00,427.04 433.00,428.38 433.20,428.65 442.60,442.90 451.00,465.50 460.20,482.20 468.70,474.50 469.70,474.59 470.70,474.68 471.70,474.77 472.70,474.85 473.70,474.93 474.70,475.00 475.70,475.07 476.70,475.13 477.70,475.18 478.70,475.22 479.70,475.26 480.70,475.28 481.70,475.30 482.70,475.30 483.70,475.30 484.70,475.29 485.70,475.28 486.70,475.27 487.70,475.25 488.70,475.23 489.70,475.21 490.70,475.19 491.70,475.16 492.70,475.14 493.70,475.11 494.70,475.08 495.70,475.05 496.70,475.02 497.70,474.99 498.70,474.95 499.70,474.92 500.70,474.89 501.70,474.86 502.70,474.83 503.70,474.79 504.70,474.76 505.70,474.72 506.70,474.68 507.70,474.63 508.70,474.59 509.70,474.54 510.70,474.50 511.70,474.45 512.70,474.40 513.70,474.35 514.70,474.29 515.70,474.24 516.70,474.18 517.70,474.13 518.70,474.07 519.70,474.01 520.70,473.95 521.50,473.90" fill="none" stroke="#ff0000" stroke-width="2.1" stroke-linejoin="round"/>
<polyline points="81.00,300.81 82.00,300.81 83.00,300.81 84.00,300.81 85.00,300.80 86.00,300.80 87.00,300.80 88.00,300.80 89.00,300.80 90.00,300.79 91.00,300.79 92.00,300.79 93.00,300.79 94.00,300.79 95.00,300.79 96.00,300.78 97.00,300.78 98.00,300.78 99.00,300.78 100.00,300.78 101.00,300.78 102.00,300.78 103.00,300.78 104.00,300.78 105.00,300.78 106.00,300.78 107.00,300.77 108.00,300.77 109.00,300.77 110.00,300.77 111.00,300.77 112.00,300.77 113.00,300.77 114.00,300.77 115.00,300.77 116.00,300.77 117.00,300.77 118.00,300.77 119.00,300.78 120.00,300.78 121.00,300.78 122.00,300.78 123.00,300.78 124.00,300.78 125.00,300.78 126.00,300.78 127.00,300.78 128.00,300.78 129.00,300.78 130.00,300.79 131.00,300.79 132.00,300.79 133.00,300.79 134.00,300.79 135.00,300.79 136.00,300.79 137.00,300.80 138.00,300.80 139.00,300.80 140.00,300.80 141.00,300.80 142.00,300.81 143.00,300.81 144.00,300.81 145.00,300.81 146.00,300.81 147.00,300.82 148.00,300.82 149.00,300.82 150.00,300.82 151.00,300.83 152.00,300.83 153.00,300.83 154.00,300.83 155.00,300.84 156.00,300.84 157.00,300.84 158.00,300.85 159.00,300.85 160.00,300.85 161.00,300.86 162.00,300.86 163.00,300.86 164.00,300.86 165.00,300.87 166.00,300.87 167.00,300.87 168.00,300.88 169.00,300.88 170.00,300.89 171.00,300.89 172.00,300.89 173.00,300.90 174.00,300.90 175.00,300.90 176.00,300.91 177.00,300.91 178.00,300.91 179.00,300.92 180.00,300.92 181.00,300.93 182.00,300.93 183.00,300.93 184.00,300.94 185.00,300.94 186.00,300.95 187.00,300.95 188.00,300.96 189.00,300.96 190.00,300.96 191.00,300.97 192.00,300.97 193.00,300.98 194.00,300.98 195.00,300.99 196.00,300.99 197.00,300.99 198.00,301.00 199.00,301.00 200.00,301.01 201.00,301.01 202.00,301.02 203.00,301.02 204.00,301.03 205.00,301.03 206.00,301.04 207.00,301.04 208.00,301.05 209.00,301.05 210.00,301.05 211.00,301.06 212.00,301.06 213.00,301.07 214.00,301.07 215.00,301.08 216.00,301.08 217.00,301.07 218.00,301.06 219.00,301.04 220.00,301.02 221.00,300.99 222.00,300.96 223.00,300.92 224.00,300.89 225.00,300.86 226.00,300.82 227.00,300.79 228.00,300.76 229.00,300.74 230.00,300.72 231.00,300.71 232.00,300.70 233.00,300.70 234.00,300.70 235.00,300.72 236.00,300.75 237.00,300.79 238.00,300.84 239.00,300.90 240.00,300.98 241.00,301.07 242.00,301.18 243.00,301.30 244.00,301.44 245.00,301.61 246.00,301.79 247.00,301.99 248.00,302.20 249.00,302.44 250.00,302.69 251.00,302.96 252.00,303.25 253.00,303.56 254.00,303.87 255.00,304.21 256.00,304.56 257.00,304.92 258.00,305.30 259.00,305.69 260.00,306.10 261.00,306.52 262.00,306.96 263.00,307.41 264.00,307.88 265.00,308.37 266.00,308.87 267.00,309.38 268.00,309.91 269.00,310.46 270.00,311.01 271.00,311.57 272.00,312.13 273.00,312.70 274.00,313.28 275.00,313.86 276.00,314.45 277.00,315.05 278.00,315.65 279.00,316.26 280.00,316.87 281.00,317.49 282.00,318.11 283.00,318.74 284.00,319.37 285.00,320.01 286.00,320.65 287.00,321.29 288.00,321.94 289.00,322.59 290.00,323.24 291.00,323.90 292.00,324.56 293.00,325.22 294.00,325.89 295.00,326.55 296.00,327.22 297.00,327.89 298.00,328.56 299.00,329.24 300.00,329.91 301.00,330.59 302.00,331.26 303.00,331.94 304.00,332.62 305.00,333.30 306.00,333.97 307.00,334.65 308.00,335.33 309.00,336.00 310.00,336.68 311.00,337.35 312.00,338.03 313.00,338.70 314.00,339.37 315.00,340.04 316.00,340.70 317.00,341.37 318.00,342.04 319.00,342.70 320.00,343.36 321.00,344.02 322.00,344.68 323.00,345.34 324.00,346.00 325.00,346.66 326.00,347.31 327.00,347.97 328.00,348.62 329.00,349.28 330.00,349.93 331.00,350.58 332.00,351.24 333.00,351.89 334.00,352.54 335.00,353.19 336.00,353.84 337.00,354.49 338.00,355.14 339.00,355.79 340.00,356.44 341.00,357.08 342.00,357.73 343.00,358.38 344.00,359.03 345.00,359.68 346.00,360.32 347.00,360.97 348.00,361.62 349.00,362.27 350.00,362.92 351.00,363.57 352.00,364.22 353.00,364.87 354.00,365.52 355.00,366.17 356.00,366.82 357.00,367.48 358.00,368.13 359.00,368.79 360.00,369.44 361.00,370.10 362.00,370.76 363.00,371.42 364.00,372.08 365.00,372.74 366.00,373.40 367.00,374.06 368.00,374.73 369.00,375.40 370.00,376.06 371.00,376.73 372.00,377.41 373.00,378.08 374.00,378.75 375.00,379.43 376.00,380.11 377.00,380.79 378.00,381.47 379.00,382.16 380.00,382.84 381.00,383.53 382.00,384.23 383.00,384.92 384.00,385.61 385.00,386.31 386.00,387.01 387.00,387.72 388.00,388.42 389.00,389.13 390.00,389.84 391.00,390.56 392.00,391.27 393.00,391.99 394.00,392.72 395.00,393.44 396.00,394.17 397.00,394.90 398.00,395.64 399.00,396.38 400.00,397.12 401.00,397.87 402.00,398.62 403.00,399.39 404.00,400.15 405.00,400.93 406.00,401.71 407.00,402.50 408.00,403.30 409.00,404.11 410.00,404.93 411.00,405.76 412.00,406.61 413.00,407.46 414.00,408.33 415.00,409.21 416.00,410.11 417.00,411.02 418.00,411.94 419.00,412.88 420.00,413.84 421.00,414.81 422.00,415.80 423.00,416.81 424.00,417.84 425.00,418.88 426.00,419.95 427.00,421.04 428.00,422.17 429.00,423.33 430.00,424.52 431.00,425.76 432.00,427.04 433.00,428.38 433.20,428.65 442.60,442.90 451.00,465.50 460.20,480.10 468.70,473.80 469.70,473.96 470.70,474.13 471.70,474.29 472.70,474.44 473.70,474.58 474.70,474.72 475.70,474.85 476.70,474.96 477.70,475.06 478.70,475.15 479.70,475.21 480.70,475.26 481.70,475.29 482.70,475.30 483.70,475.30 484.70,475.29 485.70,475.28 486.70,475.27 487.70,475.25 488.70,475.23 489.70,475.21 490.70,475.19 491.70,475.16 492.70,475.14 493.70,475.11 494.70,475.08 495.70,475.05 496.70,475.02 497.70,474.99 498.70,474.95 499.70,474.92 500.70,474.89 501.70,474.86 502.70,474.83 503.70,474.79 504.70,474.76 505.70,474.72 506.70,474.68 507.70,474.63 508.70,474.59 509.70,474.54 510.70,474.50 511.70,474.45 512.70,474.40 513.70,474.35 514.70,474.29 515.70,474.24 516.70,474.18 517.70,474.13 518.70,474.07 519.70,474.01 520.70,473.95 521.50,473.90" fill="none" stroke="#00ff00" stroke-width="2.1" stroke-linejoin="round"/>
<polyline points="81.00,300.81 82.00,300.81 83.00,300.81 84.00,300.81 85.00,300.80 86.00,300.80 87.00,300.80 88.00,300.80 89.00,300.80 90.00,300.79 91.00,300.79 92.00,300.79 93.00,300.79 94.00,300.79 95.00,300.79 96.00,300.78 97.00,300.78 98.00,300.78 99.00,300.78 100.00,300.78 101.00,300.78 102.00,300.78 103.00,300.78 104.00,300.78 105.00,300.78 106.00,300.78 107.00,300.77 108.00,300.77 109.00,300.77 110.00,300.77 111.00,300.77 112.00,300.77 113.00,300.77 114.00,300.77 115.00,300.77 116.00,300.77 117.00,300.77 118.00,300.77 119.00,300.78 120.00,300.78 121.00,300.78 122.00,300.78 123.00,300.78 124.00,300.78 125.00,300.78 126.00,300.78 127.00,300.78 128.00,300.78 129.00,300.78 130.00,300.79 131.00,300.79 132.00,300.79 133.00,300.79 134.00,300.79 135.00,300.79 136.00,300.79 137.00,300.80 138.00,300.80 139.00,300.80 140.00,300.80 141.00,300.80 142.00,300.81 143.00,300.81 144.00,300.81 145.00,300.81 146.00,300.81 147.00,300.82 148.00,300.82 149.00,300.82 150.00,300.82 151.00,300.83 152.00,300.83 153.00,300.83 154.00,300.83 155.00,300.84 156.00,300.84 157.00,300.84 158.00,300.85 159.00,300.85 160.00,300.85 161.00,300.86 162.00,300.86 163.00,300.86 164.00,300.86 165.00,300.87 166.00,300.87 167.00,300.87 168.00,300.88 169.00,300.88 170.00,300.89 171.00,300.89 172.00,300.89 173.00,300.90 174.00,300.90 175.00,300.90 176.00,300.91 177.00,300.91 178.00,300.91 179.00,300.92 180.00,300.92 181.00,300.93 182.00,300.93 183.00,300.93 184.00,300.94 185.00,300.94 186.00,300.95 187.00,300.95 188.00,300.96 189.00,300.96 190.00,300.96 191.00,300.97 192.00,300.97 193.00,300.98 194.00,300.98 195.00,300.99 196.00,300.99 197.00,300.99 198.00,301.00 199.00,301.00 200.00,301.01 201.00,301.01 202.00,301.02 203.00,301.02 204.00,301.03 205.00,301.03 206.00,301.04 207.00,301.04 208.00,301.05 209.00,301.05 210.00,301.05 211.00,301.06 212.00,301.06 213.00,301.07 214.00,301.07 215.00,301.08 216.00,301.08 217.00,301.08 218.00,301.07 219.00,301.05 220.00,301.03 221.00,301.01 222.00,300.99 223.00,300.97 224.00,300.94 225.00,300.92 226.00,300.90 227.00,300.88 228.00,300.87 229.00,300.86 230.00,300.86 231.00,300.86 232.00,300.87 233.00,300.88 234.00,300.91 235.00,300.94 236.00,300.99 237.00,301.05 238.00,301.12 239.00,301.20 240.00,301.30 241.00,301.41 242.00,301.54 243.00,301.68 244.00,301.84 245.00,302.02 246.00,302.22 247.00,302.44 248.00,302.68 249.00,302.93 250.00,303.21 251.00,303.50 252.00,303.80 253.00,304.12 254.00,304.45 255.00,304.80 256.00,305.17 257.00,305.54 258.00,305.93 259.00,306.34 260.00,306.76 261.00,307.19 262.00,307.63 263.00,308.10 264.00,308.57 265.00,309.06 266.00,309.56 267.00,310.08 268.00,310.61 269.00,311.16 270.00,311.71 271.00,312.27 272.00,312.83 273.00,313.40 274.00,313.98 275.00,314.56 276.00,315.15 277.00,315.75 278.00,316.35 279.00,316.96 280.00,317.57 281.00,318.19 282.00,318.81 283.00,319.44 284.00,320.07 285.00,320.71 286.00,321.35 287.00,321.99 288.00,322.64 289.00,323.29 290.00,323.94 291.00,324.60 292.00,325.26 293.00,325.92 294.00,326.59 295.00,327.25 296.00,327.92 297.00,328.59 298.00,329.26 299.00,329.94 300.00,330.61 301.00,331.29 302.00,331.96 303.00,332.64 304.00,333.32 305.00,334.00 306.00,334.67 307.00,335.35 308.00,336.03 309.00,336.70 310.00,337.38 311.00,338.05 312.00,338.73 313.00,339.40 314.00,340.07 315.00,340.74 316.00,341.40 317.00,342.07 318.00,342.74 319.00,343.40 320.00,344.06 321.00,344.72 322.00,345.38 323.00,346.04 324.00,346.70 325.00,347.36 326.00,348.01 327.00,348.67 328.00,349.32 329.00,349.98 330.00,350.63 331.00,351.28 332.00,351.94 333.00,352.59 334.00,353.24 335.00,353.88 336.00,354.53 337.00,355.18 338.00,355.82 339.00,356.47 340.00,357.11 341.00,357.75 342.00,358.40 343.00,359.04 344.00,359.68 345.00,360.32 346.00,360.97 347.00,361.61 348.00,362.25 349.00,362.89 350.00,363.53 351.00,364.17 352.00,364.81 353.00,365.45 354.00,366.10 355.00,366.74 356.00,367.38 357.00,368.03 358.00,368.67 359.00,369.31 360.00,369.96 361.00,370.61 362.00,371.25 363.00,371.90 364.00,372.55 365.00,373.20 366.00,373.85 367.00,374.51 368.00,375.16 369.00,375.82 370.00,376.47 371.00,377.13 372.00,377.79 373.00,378.45 374.00,379.12 375.00,379.78 376.00,380.45 377.00,381.12 378.00,381.79 379.00,382.46 380.00,383.14 381.00,383.81 382.00,384.49 383.00,385.18 384.00,385.86 385.00,386.55 386.00,387.24 387.00,387.93 388.00,388.63 389.00,389.32 390.00,390.02 391.00,390.73 392.00,391.44 393.00,392.15 394.00,392.86 395.00,393.57 396.00,394.29 397.00,395.02 398.00,395.74 399.00,396.47 400.00,397.21 401.00,397.95 402.00,398.70 403.00,399.45 404.00,400.21 405.00,400.98 406.00,401.76 407.00,402.54 408.00,403.34 409.00,404.14 410.00,404.96 411.00,405.78 412.00,406.62 413.00,407.48 414.00,408.34 415.00,409.22 416.00,410.11 417.00,411.02 418.00,411.94 419.00,412.88 420.00,413.84 421.00,414.81 422.00,415.80 423.00,416.81 424.00,417.84 425.00,418.88 426.00,419.95 427.00,421.04 428.00,422.17 429.00,423.33 430.00,424.52 431.00,425.76 432.00,427.04 433.00,428.38 433.20,428.65 442.60,442.90 451.00,466.50 460.20,487.70 468.70,479.40 469.70,479.25 470.70,479.09 471.70,478.94 472.70,478.79 473.70,478.64 474.70,478.48 475.70,478.33 476.70,478.18 477.70,478.03 478.70,477.88 479.70,477.72 480.70,477.57 481.70,477.42 482.70,477.27 483.70,477.12 484.70,476.97 485.70,476.81 486.70,476.66 487.70,476.51 488.70,476.35 489.70,476.20 490.70,476.05 491.70,475.90 492.70,475.75 493.70,475.60 494.70,475.45 495.70,475.30 496.70,475.15 497.70,475.00 498.70,474.86 499.70,474.71 500.70,474.57 501.70,474.43 502.70,474.29 503.70,474.15 504.70,474.01 505.70,473.87 506.70,473.74 507.70,473.60 508.70,473.46 509.70,473.33 510.70,473.20 511.70,473.06 512.70,472.93 513.70,472.80 514.70,472.67 515.70,472.54 516.70,472.41 517.70,472.28 518.70,472.15 519.70,472.03 520.70,471.90 521.50,471.80" fill="none" stroke="#a020f0" stroke-width="2.1" stroke-linejoin="round"/>
<polyline points="81.00,295.21 82.00,295.21 83.00,295.21 84.00,295.21 85.00,295.20 86.00,295.20 87.00,295.20 88.00,295.20 89.00,295.20 90.00,295.19 91.00,295.19 92.00,295.19 93.00,295.19 94.00,295.19 95.00,295.19 96.00,295.18 97.00,295.18 98.00,295.18 99.00,295.18 100.00,295.18 101.00,295.18 102.00,295.18 103.00,295.18 104.00,295.18 105.00,295.18 106.00,295.18 107.00,295.17 108.00,295.17 109.00,295.17 110.00,295.17 111.00,295.17 112.00,295.17 113.00,295.17 114.00,295.17 115.00,295.17 116.00,295.17 117.00,295.17 118.00,295.17 119.00,295.18 120.00,295.18 121.00,295.18 122.00,295.18 123.00,295.18 124.00,295.18 125.00,295.18 126.00,295.18 127.00,295.18 128.00,295.18 129.00,295.18 130.00,295.19 131.00,295.19 132.00,295.19 133.00,295.19 134.00,295.19 135.00,295.19 136.00,295.19 137.00,295.20 138.00,295.20 139.00,295.20 140.00,295.20 141.00,295.20 142.00,295.21 143.00,295.21 144.00,295.21 145.00,295.21 146.00,295.21 147.00,295.22 148.00,295.22 149.00,295.22 150.00,295.22 151.00,295.23 152.00,295.23 153.00,295.23 154.00,295.23 155.00,295.24 156.00,295.24 157.00,295.24 158.00,295.25 159.00,295.25 160.00,295.25 161.00,295.26 162.00,295.26 163.00,295.26 164.00,295.26 165.00,295.27 166.00,295.27 167.00,295.27 168.00,295.28 169.00,295.28 170.00,295.29 171.00,295.29 172.00,295.29 173.00,295.30 174.00,295.30 175.00,295.30 176.00,295.31 177.00,295.31 178.00,295.31 179.00,295.32 180.00,295.32 181.00,295.33 182.00,295.33 183.00,295.33 184.00,295.34 185.00,295.34 186.00,295.35 187.00,295.35 188.00,295.36 189.00,295.36 190.00,295.36 191.00,295.37 192.00,295.37 193.00,295.38 194.00,295.38 195.00,295.39 196.00,295.39 197.00,295.39 198.00,295.40 199.00,295.40 200.00,295.41 201.00,295.41 202.00,295.42 203.00,295.42 204.00,295.43 205.00,295.43 206.00,295.44 207.00,295.44 208.00,295.45 209.00,295.45 210.00,295.45 211.00,295.46 212.00,295.46 213.00,295.47 214.00,295.47 215.00,295.48 216.00,295.49 217.00,295.50 218.00,295.51 219.00,295.54 220.00,295.57 221.00,295.60 222.00,295.64 223.00,295.69 224.00,295.75 225.00,295.82 226.00,295.89 227.00,295.98 228.00,296.07 229.00,296.17 230.00,296.29 231.00,296.42 232.00,296.55 233.00,296.70 234.00,296.86 235.00,297.04 236.00,297.23 237.00,297.43 238.00,297.65 239.00,297.88 240.00,298.12 241.00,298.38 242.00,298.66 243.00,298.96 244.00,299.27 245.00,299.60 246.00,299.94 247.00,300.31 248.00,300.69 249.00,301.08 250.00,301.49 251.00,301.91 252.00,302.34 253.00,302.79 254.00,303.24 255.00,303.70 256.00,304.17 257.00,304.65 258.00,305.14 259.00,305.63 260.00,306.13 261.00,306.64 262.00,307.15 263.00,307.66 264.00,308.18 265.00,308.71 266.00,309.24 267.00,309.78 268.00,310.31 269.00,310.86 270.00,311.41 271.00,311.97 272.00,312.53 273.00,313.10 274.00,313.68 275.00,314.26 276.00,314.85 277.00,315.45 278.00,316.05 279.00,316.66 280.00,317.27 281.00,317.89 282.00,318.51 283.00,319.14 284.00,319.77 285.00,320.41 286.00,321.05 287.00,321.69 288.00,322.34 289.00,322.99 290.00,323.64 291.00,324.30 292.00,324.96 293.00,325.62 294.00,326.29 295.00,326.95 296.00,327.62 297.00,328.29 298.00,328.96 299.00,329.64 300.00,330.31 301.00,330.99 302.00,331.66 303.00,332.34 304.00,333.02 305.00,333.70 306.00,334.37 307.00,335.05 308.00,335.73 309.00,336.40 310.00,337.08 311.00,337.75 312.00,338.43 313.00,339.10 314.00,339.77 315.00,340.44 316.00,341.10 317.00,341.77 318.00,342.44 319.00,343.10 320.00,343.76 321.00,344.42 322.00,345.08 323.00,345.74 324.00,346.40 325.00,347.06 326.00,347.71 327.00,348.37 328.00,349.02 329.00,349.68 330.00,350.33 331.00,350.98 332.00,351.64 333.00,352.29 334.00,352.94 335.00,353.59 336.00,354.23 337.00,354.88 338.00,355.53 339.00,356.18 340.00,356.82 341.00,357.47 342.00,358.11 343.00,358.76 344.00,359.40 345.00,360.05 346.00,360.69 347.00,361.33 348.00,361.98 349.00,362.62 350.00,363.27 351.00,363.91 352.00,364.56 353.00,365.20 354.00,365.85 355.00,366.50 356.00,367.14 357.00,367.79 358.00,368.44 359.00,369.09 360.00,369.74 361.00,370.39 362.00,371.04 363.00,371.69 364.00,372.35 365.00,373.00 366.00,373.66 367.00,374.32 368.00,374.98 369.00,375.64 370.00,376.30 371.00,376.96 372.00,377.63 373.00,378.29 374.00,378.96 375.00,379.63 376.00,380.30 377.00,380.98 378.00,381.65 379.00,382.33 380.00,383.01 381.00,383.69 382.00,384.38 383.00,385.07 384.00,385.76 385.00,386.45 386.00,387.14 387.00,387.84 388.00,388.54 389.00,389.24 390.00,389.95 391.00,390.66 392.00,391.37 393.00,392.08 394.00,392.80 395.00,393.52 396.00,394.24 397.00,394.97 398.00,395.70 399.00,396.43 400.00,397.17 401.00,397.92 402.00,398.67 403.00,399.42 404.00,400.19 405.00,400.96 406.00,401.74 407.00,402.52 408.00,403.32 409.00,404.13 410.00,404.95 411.00,405.78 412.00,406.62 413.00,407.47 414.00,408.34 415.00,409.22 416.00,410.11 417.00,411.02 418.00,411.94 419.00,412.88 420.00,413.84 421.00,414.81 422.00,415.80 423.00,416.81 424.00,417.84 425.00,418.88 426.00,419.95 427.00,421.04 428.00,422.17 429.00,423.33 430.00,424.52 431.00,425.76 432.00,427.04 433.00,428.38 433.20,428.65 442.60,442.60 451.00,463.30 460.20,478.00 468.70,475.70 469.70,475.82 470.70,475.94 471.70,476.04 472.70,476.14 473.70,476.23 474.70,476.31 475.70,476.38 476.70,476.44 477.70,476.49 478.70,476.53 479.70,476.56 480.70,476.58 481.70,476.60 482.70,476.60 483.70,476.59 484.70,476.56 485.70,476.51 486.70,476.46 487.70,476.39 488.70,476.31 489.70,476.22 490.70,476.13 491.70,476.03 492.70,475.93 493.70,475.82 494.70,475.72 495.70,475.62 496.70,475.52 497.70,475.42 498.70,475.34 499.70,475.26 500.70,475.19 501.70,475.12 502.70,475.06 503.70,474.99 504.70,474.93 505.70,474.87 506.70,474.80 507.70,474.74 508.70,474.68 509.70,474.62 510.70,474.56 511.70,474.51 512.70,474.45 513.70,474.40 514.70,474.34 515.70,474.29 516.70,474.23 517.70,474.18 518.70,474.13 519.70,474.08 520.70,474.04 521.50,474.00" fill="none" stroke="#0000ff" stroke-width="2.1" stroke-linejoin="round"/>
<polyline points="81.00,296.51 82.00,296.51 83.00,296.51 84.00,296.51 85.00,296.50 86.00,296.50 87.00,296.50 88.00,296.50 89.00,296.50 90.00,296.49 91.00,296.49 92.00,296.49 93.00,296.49 94.00,296.49 95.00,296.49 96.00,296.48 97.00,296.48 98.00,296.48 99.00,296.48 100.00,296.48 101.00,296.48 102.00,296.48 103.00,296.48 104.00,296.48 105.00,296.48 106.00,296.48 107.00,296.47 108.00,296.47 109.00,296.47 110.00,296.47 111.00,296.47 112.00,296.47 113.00,296.47 114.00,296.47 115.00,296.47 116.00,296.47 117.00,296.47 118.00,296.47 119.00,296.48 120.00,296.48 121.00,296.48 122.00,296.48 123.00,296.48 124.00,296.48 125.00,296.48 126.00,296.48 127.00,296.48 128.00,296.48 129.00,296.48 130.00,296.49 131.00,296.49 132.00,296.49 133.00,296.49 134.00,296.49 135.00,296.49 136.00,296.49 137.00,296.50 138.00,296.50 139.00,296.50 140.00,296.50 141.00,296.50 142.00,296.51 143.00,296.51 144.00,296.51 145.00,296.51 146.00,296.51 147.00,296.52 148.00,296.52 149.00,296.52 150.00,296.52 151.00,296.53 152.00,296.53 153.00,296.53 154.00,296.53 155.00,296.54 156.00,296.54 157.00,296.54 158.00,296.55 159.00,296.55 160.00,296.55 161.00,296.56 162.00,296.56 163.00,296.56 164.00,296.56 165.00,296.57 166.00,296.57 167.00,296.57 168.00,296.58 169.00,296.58 170.00,296.59 171.00,296.59 172.00,296.59 173.00,296.60 174.00,296.60 175.00,296.60 176.00,296.61 177.00,296.61 178.00,296.61 179.00,296.62 180.00,296.62 181.00,296.63 182.00,296.63 183.00,296.63 184.00,296.64 185.00,296.64 186.00,296.65 187.00,296.65 188.00,296.66 189.00,296.66 190.00,296.66 191.00,296.67 192.00,296.67 193.00,296.68 194.00,296.68 195.00,296.69 196.00,296.69 197.00,296.69 198.00,296.70 199.00,296.70 200.00,296.71 201.00,296.71 202.00,296.72 203.00,296.72 204.00,296.73 205.00,296.73 206.00,296.74 207.00,296.74 208.00,296.75 209.00,296.75 210.00,296.75 211.00,296.76 212.00,296.76 213.00,296.77 214.00,296.77 215.00,296.78 216.00,296.78 217.00,296.79 218.00,296.80 219.00,296.80 220.00,296.82 221.00,296.83 222.00,296.85 223.00,296.87 224.00,296.90 225.00,296.93 226.00,296.97 227.00,297.02 228.00,297.07 229.00,297.13 230.00,297.20 231.00,297.28 232.00,297.37 233.00,297.47 234.00,297.58 235.00,297.70 236.00,297.83 237.00,297.98 238.00,298.14 239.00,298.32 240.00,298.51 241.00,298.71 242.00,298.93 243.00,299.17 244.00,299.43 245.00,299.70 246.00,299.99 247.00,300.30 248.00,300.63 249.00,300.97 250.00,301.32 251.00,301.69 252.00,302.08 253.00,302.48 254.00,302.88 255.00,303.30 256.00,303.73 257.00,304.17 258.00,304.62 259.00,305.08 260.00,305.55 261.00,306.03 262.00,306.52 263.00,307.01 264.00,307.52 265.00,308.03 266.00,308.55 267.00,309.08 268.00,309.61 269.00,310.16 270.00,310.71 271.00,311.27 272.00,311.83 273.00,312.40 274.00,312.98 275.00,313.56 276.00,314.15 277.00,314.75 278.00,315.35 279.00,315.96 280.00,316.57 281.00,317.19 282.00,317.81 283.00,318.44 284.00,319.07 285.00,319.71 286.00,320.35 287.00,320.99 288.00,321.64 289.00,322.29 290.00,322.94 291.00,323.60 292.00,324.26 293.00,324.92 294.00,325.59 295.00,326.25 296.00,326.92 297.00,327.59 298.00,328.26 299.00,328.94 300.00,329.61 301.00,330.29 302.00,330.96 303.00,331.64 304.00,332.32 305.00,333.00 306.00,333.67 307.00,334.35 308.00,335.03 309.00,335.70 310.00,336.38 311.00,337.05 312.00,337.73 313.00,338.40 314.00,339.07 315.00,339.74 316.00,340.40 317.00,341.07 318.00,341.74 319.00,342.40 320.00,343.06 321.00,343.72 322.00,344.38 323.00,345.04 324.00,345.70 325.00,346.36 326.00,347.01 327.00,347.67 328.00,348.32 329.00,348.98 330.00,349.63 331.00,350.28 332.00,350.94 333.00,351.59 334.00,352.24 335.00,352.89 336.00,353.54 337.00,354.19 338.00,354.84 339.00,355.49 340.00,356.15 341.00,356.80 342.00,357.45 343.00,358.10 344.00,358.75 345.00,359.40 346.00,360.05 347.00,360.70 348.00,361.35 349.00,362.00 350.00,362.66 351.00,363.31 352.00,363.96 353.00,364.62 354.00,365.27 355.00,365.93 356.00,366.58 357.00,367.24 358.00,367.90 359.00,368.56 360.00,369.22 361.00,369.88 362.00,370.54 363.00,371.21 364.00,371.87 365.00,372.54 366.00,373.21 367.00,373.87 368.00,374.54 369.00,375.22 370.00,375.89 371.00,376.56 372.00,377.24 373.00,377.92 374.00,378.60 375.00,379.28 376.00,379.96 377.00,380.65 378.00,381.34 379.00,382.03 380.00,382.72 381.00,383.41 382.00,384.11 383.00,384.81 384.00,385.51 385.00,386.21 386.00,386.92 387.00,387.63 388.00,388.34 389.00,389.05 390.00,389.77 391.00,390.48 392.00,391.21 393.00,391.93 394.00,392.66 395.00,393.39 396.00,394.12 397.00,394.85 398.00,395.59 399.00,396.34 400.00,397.08 401.00,397.84 402.00,398.59 403.00,399.36 404.00,400.13 405.00,400.91 406.00,401.69 407.00,402.48 408.00,403.29 409.00,404.10 410.00,404.92 411.00,405.76 412.00,406.60 413.00,407.46 414.00,408.33 415.00,409.21 416.00,410.11 417.00,411.02 418.00,411.94 419.00,412.88 420.00,413.84 421.00,414.81 422.00,415.80 423.00,416.81 424.00,417.84 425.00,418.88 426.00,419.95 427.00,421.04 428.00,422.17 429.00,423.33 430.00,424.52 431.00,425.76 432.00,427.04 433.00,428.38 433.20,428.65 442.60,442.90 451.00,465.50 460.20,478.70 468.70,473.50 469.70,473.70 470.70,473.89 471.70,474.08 472.70,474.26 473.70,474.44 474.70,474.60 475.70,474.75 476.70,474.89 477.70,475.01 478.70,475.11 479.70,475.20 480.70,475.26 481.70,475.29 482.70,475.30 483.70,475.30 484.70,475.29 485.70,475.28 486.70,475.27 487.70,475.25 488.70,475.23 489.70,475.21 490.70,475.19 491.70,475.16 492.70,475.14 493.70,475.11 494.70,475.08 495.70,475.05 496.70,475.02 497.70,474.99 498.70,474.95 499.70,474.92 500.70,474.89 501.70,474.86 502.70,474.83 503.70,474.79 504.70,474.76 505.70,474.72 506.70,474.68 507.70,474.63 508.70,474.59 509.70,474.54 510.70,474.50 511.70,474.45 512.70,474.40 513.70,474.35 514.70,474.29 515.70,474.24 516.70,474.18 517.70,474.13 518.70,474.07 519.70,474.01 520.70,473.95 521.50,473.90" fill="none" stroke="#ff8000" stroke-width="2.1" stroke-linejoin="round"/>
<rect x="101.5" y="138.5" width="57.5" height="106" class="lg"/>
<line x1="103" y1="150.7" x2="141.3" y2="150.7" stroke="#ff0000" stroke-width="2"/>
<text x="145.3" y="156.8" class="lt">tt</text>
<line x1="103" y1="171.2" x2="141.3" y2="171.2" stroke="#00ff00" stroke-width="2"/>
<text x="145.3" y="177.3" class="lt">ff</text>
<line x1="103" y1="191.7" x2="141.3" y2="191.7" stroke="#ff8000" stroke-width="2"/>
<text x="145.3" y="197.8" class="lt">fs</text>
<line x1="103" y1="212.2" x2="141.3" y2="212.2" stroke="#a020f0" stroke-width="2"/>
<text x="145.3" y="218.3" class="lt">sf</text>
<line x1="103" y1="232.7" x2="141.3" y2="232.7" stroke="#0000ff" stroke-width="2"/>
<text x="145.3" y="238.8" class="lt">ss</text>
<rect x="101.5" y="385.2" width="57.5" height="106" class="lg"/>
<line x1="103" y1="397.4" x2="141.3" y2="397.4" stroke="#ff0000" stroke-width="2"/>
<text x="145.3" y="403.5" class="lt">tt</text>
<line x1="103" y1="417.9" x2="141.3" y2="417.9" stroke="#00ff00" stroke-width="2"/>
<text x="145.3" y="424.0" class="lt">ff</text>
<line x1="103" y1="438.4" x2="141.3" y2="438.4" stroke="#ff8000" stroke-width="2"/>
<text x="145.3" y="444.5" class="lt">fs</text>
<line x1="103" y1="458.9" x2="141.3" y2="458.9" stroke="#a020f0" stroke-width="2"/>
<text x="145.3" y="465.0" class="lt">sf</text>
<line x1="103" y1="479.4" x2="141.3" y2="479.4" stroke="#0000ff" stroke-width="2"/>
<text x="145.3" y="485.5" class="lt">ss</text>

<circle cx="380.5" cy="76.1" r="4.9" class="cc"/>
<circle cx="424.1" cy="417.5" r="4.7" class="cc"/>
<line x1="351" y1="99.8" x2="368.88" y2="85.90" stroke="#000" stroke-width="1.6"/><polygon points="374.8,81.3 369.87,88.81 366.31,84.23" fill="#000"/>
<line x1="365.4" y1="440.4" x2="409.18" y2="424.03" stroke="#000" stroke-width="1.6"/><polygon points="416.2,421.4 409.25,427.09 407.22,421.66" fill="#000"/>
<text x="386.8" y="65.9" class="an" textLength="131.1" lengthAdjust="spacingAndGlyphs">PM &#8776; 76.63 degree</text>
<text x="212.4" y="111.8" class="an" textLength="170.7" lengthAdjust="spacingAndGlyphs">When amplitude is 0 dB,</text>
<text x="212.4" y="132.2" class="an" textLength="208.8" lengthAdjust="spacingAndGlyphs">phase is about -103.37 degree.</text>
<text x="412.0" y="402.9" class="an" textLength="107.7" lengthAdjust="spacingAndGlyphs">GM &#8776; 16.64 dB</text>
<text x="232.6" y="453.6" class="an" textLength="190.2" lengthAdjust="spacingAndGlyphs">When phase is -180 degree,</text>
<text x="232.6" y="474.0" class="an" textLength="159.8" lengthAdjust="spacingAndGlyphs">amplitude is -16.64 dB.</text>
<text x="247.5" y="535.5" class="an" textLength="107.2" lengthAdjust="spacingAndGlyphs">Frequency (Hz)</text>
<text transform="translate(22,137) rotate(-90)" class="al">phase (degree)</text>
<text transform="translate(25.3,378.6) rotate(-90)" class="al">amplitude (dB)</text>

<line x1="81.0" y1="55.60" x2="87.0" y2="55.60" class="tk"/>
<line x1="81.0" y1="96.60" x2="87.0" y2="96.60" class="tk"/>
<line x1="81.0" y1="137.60" x2="87.0" y2="137.60" class="tk"/>
<line x1="81.0" y1="178.60" x2="87.0" y2="178.60" class="tk"/>
<line x1="81.0" y1="219.60" x2="87.0" y2="219.60" class="tk"/>
<line x1="95.75" y1="261.0" x2="95.75" y2="258.2" class="mt"/>
<line x1="104.38" y1="261.0" x2="104.38" y2="258.2" class="mt"/>
<line x1="110.50" y1="261.0" x2="110.50" y2="258.2" class="mt"/>
<line x1="115.25" y1="261.0" x2="115.25" y2="258.2" class="mt"/>
<line x1="119.13" y1="261.0" x2="119.13" y2="258.2" class="mt"/>
<line x1="122.41" y1="261.0" x2="122.41" y2="258.2" class="mt"/>
<line x1="125.25" y1="261.0" x2="125.25" y2="258.2" class="mt"/>
<line x1="127.76" y1="261.0" x2="127.76" y2="258.2" class="mt"/>
<line x1="144.75" y1="261.0" x2="144.75" y2="258.2" class="mt"/>
<line x1="153.38" y1="261.0" x2="153.38" y2="258.2" class="mt"/>
<line x1="159.50" y1="261.0" x2="159.50" y2="258.2" class="mt"/>
<line x1="164.25" y1="261.0" x2="164.25" y2="258.2" class="mt"/>
<line x1="168.13" y1="261.0" x2="168.13" y2="258.2" class="mt"/>
<line x1="171.41" y1="261.0" x2="171.41" y2="258.2" class="mt"/>
<line x1="174.25" y1="261.0" x2="174.25" y2="258.2" class="mt"/>
<line x1="176.76" y1="261.0" x2="176.76" y2="258.2" class="mt"/>
<line x1="130.00" y1="261.0" x2="130.00" y2="255.0" class="tk"/>
<line x1="193.75" y1="261.0" x2="193.75" y2="258.2" class="mt"/>
<line x1="202.38" y1="261.0" x2="202.38" y2="258.2" class="mt"/>
<line x1="208.50" y1="261.0" x2="208.50" y2="258.2" class="mt"/>
<line x1="213.25" y1="261.0" x2="213.25" y2="258.2" class="mt"/>
<line x1="217.13" y1="261.0" x2="217.13" y2="258.2" class="mt"/>
<line x1="220.41" y1="261.0" x2="220.41" y2="258.2" class="mt"/>
<line x1="223.25" y1="261.0" x2="223.25" y2="258.2" class="mt"/>
<line x1="225.76" y1="261.0" x2="225.76" y2="258.2" class="mt"/>
<line x1="179.00" y1="261.0" x2="179.00" y2="255.0" class="tk"/>
<line x1="242.75" y1="261.0" x2="242.75" y2="258.2" class="mt"/>
<line x1="251.38" y1="261.0" x2="251.38" y2="258.2" class="mt"/>
<line x1="257.50" y1="261.0" x2="257.50" y2="258.2" class="mt"/>
<line x1="262.25" y1="261.0" x2="262.25" y2="258.2" class="mt"/>
<line x1="266.13" y1="261.0" x2="266.13" y2="258.2" class="mt"/>
<line x1="269.41" y1="261.0" x2="269.41" y2="258.2" class="mt"/>
<line x1="272.25" y1="261.0" x2="272.25" y2="258.2" class="mt"/>
<line x1="274.76" y1="261.0" x2="274.76" y2="258.2" class="mt"/>
<line x1="228.00" y1="261.0" x2="228.00" y2="255.0" class="tk"/>
<line x1="291.75" y1="261.0" x2="291.75" y2="258.2" class="mt"/>
<line x1="300.38" y1="261.0" x2="300.38" y2="258.2" class="mt"/>
<line x1="306.50" y1="261.0" x2="306.50" y2="258.2" class="mt"/>
<line x1="311.25" y1="261.0" x2="311.25" y2="258.2" class="mt"/>
<line x1="315.13" y1="261.0" x2="315.13" y2="258.2" class="mt"/>
<line x1="318.41" y1="261.0" x2="318.41" y2="258.2" class="mt"/>
<line x1="321.25" y1="261.0" x2="321.25" y2="258.2" class="mt"/>
<line x1="323.76" y1="261.0" x2="323.76" y2="258.2" class="mt"/>
<line x1="277.00" y1="261.0" x2="277.00" y2="255.0" class="tk"/>
<line x1="340.75" y1="261.0" x2="340.75" y2="258.2" class="mt"/>
<line x1="349.38" y1="261.0" x2="349.38" y2="258.2" class="mt"/>
<line x1="355.50" y1="261.0" x2="355.50" y2="258.2" class="mt"/>
<line x1="360.25" y1="261.0" x2="360.25" y2="258.2" class="mt"/>
<line x1="364.13" y1="261.0" x2="364.13" y2="258.2" class="mt"/>
<line x1="367.41" y1="261.0" x2="367.41" y2="258.2" class="mt"/>
<line x1="370.25" y1="261.0" x2="370.25" y2="258.2" class="mt"/>
<line x1="372.76" y1="261.0" x2="372.76" y2="258.2" class="mt"/>
<line x1="326.00" y1="261.0" x2="326.00" y2="255.0" class="tk"/>
<line x1="389.75" y1="261.0" x2="389.75" y2="258.2" class="mt"/>
<line x1="398.38" y1="261.0" x2="398.38" y2="258.2" class="mt"/>
<line x1="404.50" y1="261.0" x2="404.50" y2="258.2" class="mt"/>
<line x1="409.25" y1="261.0" x2="409.25" y2="258.2" class="mt"/>
<line x1="413.13" y1="261.0" x2="413.13" y2="258.2" class="mt"/>
<line x1="416.41" y1="261.0" x2="416.41" y2="258.2" class="mt"/>
<line x1="419.25" y1="261.0" x2="419.25" y2="258.2" class="mt"/>
<line x1="421.76" y1="261.0" x2="421.76" y2="258.2" class="mt"/>
<line x1="375.00" y1="261.0" x2="375.00" y2="255.0" class="tk"/>
<line x1="438.75" y1="261.0" x2="438.75" y2="258.2" class="mt"/>
<line x1="447.38" y1="261.0" x2="447.38" y2="258.2" class="mt"/>
<line x1="453.50" y1="261.0" x2="453.50" y2="258.2" class="mt"/>
<line x1="458.25" y1="261.0" x2="458.25" y2="258.2" class="mt"/>
<line x1="462.13" y1="261.0" x2="462.13" y2="258.2" class="mt"/>
<line x1="465.41" y1="261.0" x2="465.41" y2="258.2" class="mt"/>
<line x1="468.25" y1="261.0" x2="468.25" y2="258.2" class="mt"/>
<line x1="470.76" y1="261.0" x2="470.76" y2="258.2" class="mt"/>
<line x1="424.00" y1="261.0" x2="424.00" y2="255.0" class="tk"/>
<line x1="487.75" y1="261.0" x2="487.75" y2="258.2" class="mt"/>
<line x1="496.38" y1="261.0" x2="496.38" y2="258.2" class="mt"/>
<line x1="502.50" y1="261.0" x2="502.50" y2="258.2" class="mt"/>
<line x1="507.25" y1="261.0" x2="507.25" y2="258.2" class="mt"/>
<line x1="511.13" y1="261.0" x2="511.13" y2="258.2" class="mt"/>
<line x1="514.41" y1="261.0" x2="514.41" y2="258.2" class="mt"/>
<line x1="517.25" y1="261.0" x2="517.25" y2="258.2" class="mt"/>
<line x1="519.76" y1="261.0" x2="519.76" y2="258.2" class="mt"/>
<line x1="473.00" y1="261.0" x2="473.00" y2="255.0" class="tk"/>
<line x1="81.0" y1="302.20" x2="87.0" y2="302.20" class="tk"/>
<line x1="81.0" y1="343.20" x2="87.0" y2="343.20" class="tk"/>
<line x1="81.0" y1="384.20" x2="87.0" y2="384.20" class="tk"/>
<line x1="81.0" y1="425.20" x2="87.0" y2="425.20" class="tk"/>
<line x1="81.0" y1="466.20" x2="87.0" y2="466.20" class="tk"/>
<line x1="95.75" y1="508.0" x2="95.75" y2="505.2" class="mt"/>
<line x1="104.38" y1="508.0" x2="104.38" y2="505.2" class="mt"/>
<line x1="110.50" y1="508.0" x2="110.50" y2="505.2" class="mt"/>
<line x1="115.25" y1="508.0" x2="115.25" y2="505.2" class="mt"/>
<line x1="119.13" y1="508.0" x2="119.13" y2="505.2" class="mt"/>
<line x1="122.41" y1="508.0" x2="122.41" y2="505.2" class="mt"/>
<line x1="125.25" y1="508.0" x2="125.25" y2="505.2" class="mt"/>
<line x1="127.76" y1="508.0" x2="127.76" y2="505.2" class="mt"/>
<line x1="144.75" y1="508.0" x2="144.75" y2="505.2" class="mt"/>
<line x1="153.38" y1="508.0" x2="153.38" y2="505.2" class="mt"/>
<line x1="159.50" y1="508.0" x2="159.50" y2="505.2" class="mt"/>
<line x1="164.25" y1="508.0" x2="164.25" y2="505.2" class="mt"/>
<line x1="168.13" y1="508.0" x2="168.13" y2="505.2" class="mt"/>
<line x1="171.41" y1="508.0" x2="171.41" y2="505.2" class="mt"/>
<line x1="174.25" y1="508.0" x2="174.25" y2="505.2" class="mt"/>
<line x1="176.76" y1="508.0" x2="176.76" y2="505.2" class="mt"/>
<line x1="130.00" y1="508.0" x2="130.00" y2="502.0" class="tk"/>
<line x1="193.75" y1="508.0" x2="193.75" y2="505.2" class="mt"/>
<line x1="202.38" y1="508.0" x2="202.38" y2="505.2" class="mt"/>
<line x1="208.50" y1="508.0" x2="208.50" y2="505.2" class="mt"/>
<line x1="213.25" y1="508.0" x2="213.25" y2="505.2" class="mt"/>
<line x1="217.13" y1="508.0" x2="217.13" y2="505.2" class="mt"/>
<line x1="220.41" y1="508.0" x2="220.41" y2="505.2" class="mt"/>
<line x1="223.25" y1="508.0" x2="223.25" y2="505.2" class="mt"/>
<line x1="225.76" y1="508.0" x2="225.76" y2="505.2" class="mt"/>
<line x1="179.00" y1="508.0" x2="179.00" y2="502.0" class="tk"/>
<line x1="242.75" y1="508.0" x2="242.75" y2="505.2" class="mt"/>
<line x1="251.38" y1="508.0" x2="251.38" y2="505.2" class="mt"/>
<line x1="257.50" y1="508.0" x2="257.50" y2="505.2" class="mt"/>
<line x1="262.25" y1="508.0" x2="262.25" y2="505.2" class="mt"/>
<line x1="266.13" y1="508.0" x2="266.13" y2="505.2" class="mt"/>
<line x1="269.41" y1="508.0" x2="269.41" y2="505.2" class="mt"/>
<line x1="272.25" y1="508.0" x2="272.25" y2="505.2" class="mt"/>
<line x1="274.76" y1="508.0" x2="274.76" y2="505.2" class="mt"/>
<line x1="228.00" y1="508.0" x2="228.00" y2="502.0" class="tk"/>
<line x1="291.75" y1="508.0" x2="291.75" y2="505.2" class="mt"/>
<line x1="300.38" y1="508.0" x2="300.38" y2="505.2" class="mt"/>
<line x1="306.50" y1="508.0" x2="306.50" y2="505.2" class="mt"/>
<line x1="311.25" y1="508.0" x2="311.25" y2="505.2" class="mt"/>
<line x1="315.13" y1="508.0" x2="315.13" y2="505.2" class="mt"/>
<line x1="318.41" y1="508.0" x2="318.41" y2="505.2" class="mt"/>
<line x1="321.25" y1="508.0" x2="321.25" y2="505.2" class="mt"/>
<line x1="323.76" y1="508.0" x2="323.76" y2="505.2" class="mt"/>
<line x1="277.00" y1="508.0" x2="277.00" y2="502.0" class="tk"/>
<line x1="340.75" y1="508.0" x2="340.75" y2="505.2" class="mt"/>
<line x1="349.38" y1="508.0" x2="349.38" y2="505.2" class="mt"/>
<line x1="355.50" y1="508.0" x2="355.50" y2="505.2" class="mt"/>
<line x1="360.25" y1="508.0" x2="360.25" y2="505.2" class="mt"/>
<line x1="364.13" y1="508.0" x2="364.13" y2="505.2" class="mt"/>
<line x1="367.41" y1="508.0" x2="367.41" y2="505.2" class="mt"/>
<line x1="370.25" y1="508.0" x2="370.25" y2="505.2" class="mt"/>
<line x1="372.76" y1="508.0" x2="372.76" y2="505.2" class="mt"/>
<line x1="326.00" y1="508.0" x2="326.00" y2="502.0" class="tk"/>
<line x1="389.75" y1="508.0" x2="389.75" y2="505.2" class="mt"/>
<line x1="398.38" y1="508.0" x2="398.38" y2="505.2" class="mt"/>
<line x1="404.50" y1="508.0" x2="404.50" y2="505.2" class="mt"/>
<line x1="409.25" y1="508.0" x2="409.25" y2="505.2" class="mt"/>
<line x1="413.13" y1="508.0" x2="413.13" y2="505.2" class="mt"/>
<line x1="416.41" y1="508.0" x2="416.41" y2="505.2" class="mt"/>
<line x1="419.25" y1="508.0" x2="419.25" y2="505.2" class="mt"/>
<line x1="421.76" y1="508.0" x2="421.76" y2="505.2" class="mt"/>
<line x1="375.00" y1="508.0" x2="375.00" y2="502.0" class="tk"/>
<line x1="438.75" y1="508.0" x2="438.75" y2="505.2" class="mt"/>
<line x1="447.38" y1="508.0" x2="447.38" y2="505.2" class="mt"/>
<line x1="453.50" y1="508.0" x2="453.50" y2="505.2" class="mt"/>
<line x1="458.25" y1="508.0" x2="458.25" y2="505.2" class="mt"/>
<line x1="462.13" y1="508.0" x2="462.13" y2="505.2" class="mt"/>
<line x1="465.41" y1="508.0" x2="465.41" y2="505.2" class="mt"/>
<line x1="468.25" y1="508.0" x2="468.25" y2="505.2" class="mt"/>
<line x1="470.76" y1="508.0" x2="470.76" y2="505.2" class="mt"/>
<line x1="424.00" y1="508.0" x2="424.00" y2="502.0" class="tk"/>
<line x1="487.75" y1="508.0" x2="487.75" y2="505.2" class="mt"/>
<line x1="496.38" y1="508.0" x2="496.38" y2="505.2" class="mt"/>
<line x1="502.50" y1="508.0" x2="502.50" y2="505.2" class="mt"/>
<line x1="507.25" y1="508.0" x2="507.25" y2="505.2" class="mt"/>
<line x1="511.13" y1="508.0" x2="511.13" y2="505.2" class="mt"/>
<line x1="514.41" y1="508.0" x2="514.41" y2="505.2" class="mt"/>
<line x1="517.25" y1="508.0" x2="517.25" y2="505.2" class="mt"/>
<line x1="519.76" y1="508.0" x2="519.76" y2="505.2" class="mt"/>
<line x1="473.00" y1="508.0" x2="473.00" y2="502.0" class="tk"/>
<path d="M81.0,14.4 H521.8 V508.0 H81.0 Z" class="ax"/>
<line x1="81.0" y1="261.0" x2="521.8" y2="261.0" class="ax"/>
<text x="75.2" y="18.2" class="yl">200.0</text>
<text x="75.2" y="59.7" class="yl">0.0</text>
<text x="75.2" y="100.7" class="yl">-200.0</text>
<text x="75.2" y="141.7" class="yl">-400.0</text>
<text x="75.2" y="182.7" class="yl">-600.0</text>
<text x="75.2" y="223.7" class="yl">-800.0</text>
<text x="75.2" y="264.7" class="yl">-1000.0</text>
<text x="75.0" y="277.8" class="yl">75.0</text>
<text x="75.0" y="318.8" class="yl">50.0</text>
<text x="75.0" y="359.8" class="yl">25.0</text>
<text x="75.0" y="400.8" class="yl">0.0</text>
<text x="75.0" y="441.8" class="yl">-25.0</text>
<text x="75.0" y="482.8" class="yl">-50.0</text>
<text x="75.0" y="523.8" class="yl">-75.0</text>
<text x="82.3" y="277.6" class="xl">10<tspan dy="-6.5" class="sup">0</tspan></text>
<text x="131.3" y="277.6" class="xl">10<tspan dy="-6.5" class="sup">1</tspan></text>
<text x="180.3" y="277.6" class="xl">10<tspan dy="-6.5" class="sup">2</tspan></text>
<text x="229.3" y="277.6" class="xl">10<tspan dy="-6.5" class="sup">3</tspan></text>
<text x="278.3" y="277.6" class="xl">10<tspan dy="-6.5" class="sup">4</tspan></text>
<text x="327.3" y="277.6" class="xl">10<tspan dy="-6.5" class="sup">5</tspan></text>
<text x="376.3" y="277.6" class="xl">10<tspan dy="-6.5" class="sup">6</tspan></text>
<text x="425.3" y="277.6" class="xl">10<tspan dy="-6.5" class="sup">7</tspan></text>
<text x="474.3" y="277.6" class="xl">10<tspan dy="-6.5" class="sup">8</tspan></text>
<text x="523.3" y="277.6" class="xl">10<tspan dy="-6.5" class="sup">9</tspan></text>
<text x="82.3" y="523.6" class="xl">10<tspan dy="-6.5" class="sup">0</tspan></text>
<text x="131.3" y="523.6" class="xl">10<tspan dy="-6.5" class="sup">1</tspan></text>
<text x="180.3" y="523.6" class="xl">10<tspan dy="-6.5" class="sup">2</tspan></text>
<text x="229.3" y="523.6" class="xl">10<tspan dy="-6.5" class="sup">3</tspan></text>
<text x="278.3" y="523.6" class="xl">10<tspan dy="-6.5" class="sup">4</tspan></text>
<text x="327.3" y="523.6" class="xl">10<tspan dy="-6.5" class="sup">5</tspan></text>
<text x="376.3" y="523.6" class="xl">10<tspan dy="-6.5" class="sup">6</tspan></text>
<text x="425.3" y="523.6" class="xl">10<tspan dy="-6.5" class="sup">7</tspan></text>
<text x="474.3" y="523.6" class="xl">10<tspan dy="-6.5" class="sup">8</tspan></text>
<text x="523.3" y="523.6" class="xl">10<tspan dy="-6.5" class="sup">9</tspan></text>
</svg>
</body></html>
